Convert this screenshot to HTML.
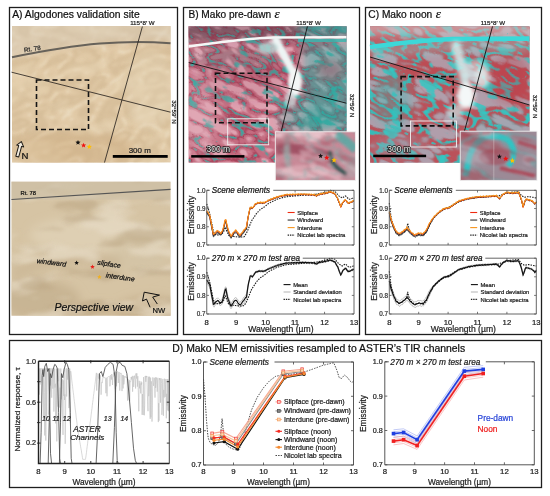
<!DOCTYPE html><html><head><meta charset='utf-8'><style>html,body{margin:0;padding:0;background:#fff;width:550px;height:496px;overflow:hidden}svg{display:block}</style></head><body>
<svg width='550' height='496' viewBox='0 0 550 496' style="font-family:'Liberation Sans',Arial,sans-serif">
<defs>
<filter id='sand' x='0' y='0' width='1' height='1'>
<feTurbulence type='fractalNoise' baseFrequency='0.045 0.09' numOctaves='3' seed='3' result='n'/>
<feColorMatrix in='n' type='matrix' values='0 0 0 0 0.84  0 0 0 0 0.74  0 0 0 0 0.6  1.2 0 0 0 -0.45' result='hi'/>
<feComposite in='hi' in2='SourceGraphic' operator='atop'/>
</filter>
<clipPath id='cp0'><rect x='12' y='26' width='158.6' height='136.4'/></clipPath>
<filter id='mf1' x='0' y='0' width='1' height='1' color-interpolation-filters='sRGB'><feTurbulence type='turbulence' baseFrequency='0.035 0.06' numOctaves='2' seed='9'/><feColorMatrix type='matrix' values='0 0 0 0 0.784 0 0 0 0 0.682 0 0 0 0 0.533 0.98 0 0 0 0.02'/><feComponentTransfer><feFuncA type='table' tableValues='0.00 0.00 0.00 0.00 0.00 0.00 0.00 0.00 0.00 0.08 0.29 0.50 0.71 0.93 1.00 1.00 1.00 0.93 0.81 0.68 0.55 0.42 0.30 0.17 0.04 0.00 0.00 0.00 0.00 0.00 0.00 0.00 0.00 0.00 0.00 0.00 0.00 0.00 0.00 0.00 0.00'/></feComponentTransfer><feGaussianBlur stdDeviation='0.9'/></filter>
<filter id='mf2' x='0' y='0' width='1' height='1' color-interpolation-filters='sRGB'><feTurbulence type='turbulence' baseFrequency='0.035 0.06' numOctaves='2' seed='9'/><feColorMatrix type='matrix' values='0 0 0 0 0.925 0 0 0 0 0.871 0 0 0 0 0.769 0.98 0 0 0 0.02'/><feComponentTransfer><feFuncA type='table' tableValues='1.00 1.00 1.00 0.73 0.31 0.00 0.00 0.00 0.00 0.00 0.00 0.00 0.00 0.00 0.00 0.00 0.00 0.00 0.00 0.00 0.00 0.00 0.00 0.00 0.00 0.00 0.00 0.00 0.00 0.00 0.00 0.00 0.00 0.00 0.00 0.00 0.00 0.00 0.00 0.00 0.00'/></feComponentTransfer><feGaussianBlur stdDeviation='0.9'/></filter>
<clipPath id='cp3'><rect x='12' y='26' width='158.6' height='136.4'/></clipPath>
<filter id='mf4' x='0' y='0' width='1' height='1' color-interpolation-filters='sRGB'><feTurbulence type='fractalNoise' baseFrequency='0.02 0.05' numOctaves='2' seed='13'/><feColorMatrix type='matrix' values='0 0 0 0 0.910 0 0 0 0 0.839 0 0 0 0 0.714 0.98 0 0 0 0.02'/><feComponentTransfer><feFuncA type='table' tableValues='0.00 0.00 0.00 0.00 0.00 0.00 0.00 0.00 0.00 0.00 0.00 0.00 0.00 0.00 0.00 0.00 0.00 0.00 0.00 0.00 0.00 0.03 0.19 0.34 0.50 0.66 0.81 0.97 1.00 1.00 1.00 1.00 1.00 1.00 1.00 1.00 1.00 1.00 1.00 1.00 1.00'/></feComponentTransfer><feGaussianBlur stdDeviation='1.5'/></filter>
<clipPath id='pc5'><rect x='12' y='26' width='158.6' height='136.4'/></clipPath>
<filter id='pb5' x='-10%' y='-10%' width='120%' height='120%'><feGaussianBlur stdDeviation='3'/></filter>
<clipPath id='pc6'><rect x='11.5' y='181.7' width='159' height='134'/></clipPath>
<filter id='pb6' x='-10%' y='-10%' width='120%' height='120%'><feGaussianBlur stdDeviation='5'/></filter>
<clipPath id='cp7'><rect x='11.5' y='181.7' width='159' height='134'/></clipPath>
<filter id='mf8' x='0' y='0' width='1' height='1' color-interpolation-filters='sRGB'><feTurbulence type='fractalNoise' baseFrequency='0.015 0.05' numOctaves='3' seed='21'/><feColorMatrix type='matrix' values='0 0 0 0 0.902 0 0 0 0 0.855 0 0 0 0 0.769 0.98 0 0 0 0.02'/><feComponentTransfer><feFuncA type='table' tableValues='0.00 0.00 0.00 0.00 0.00 0.00 0.00 0.00 0.00 0.00 0.00 0.00 0.00 0.00 0.00 0.00 0.00 0.00 0.00 0.00 0.00 0.04 0.21 0.39 0.57 0.75 0.93 1.00 1.00 1.00 1.00 1.00 1.00 1.00 1.00 1.00 1.00 1.00 1.00 1.00 1.00'/></feComponentTransfer><feGaussianBlur stdDeviation='1.5'/></filter>
<filter id='mf9' x='0' y='0' width='1' height='1' color-interpolation-filters='sRGB'><feTurbulence type='fractalNoise' baseFrequency='0.018 0.06' numOctaves='3' seed='23'/><feColorMatrix type='matrix' values='0 0 0 0 0.722 0 0 0 0 0.635 0 0 0 0 0.502 0.98 0 0 0 0.02'/><feComponentTransfer><feFuncA type='table' tableValues='0.00 0.00 0.00 0.00 0.00 0.00 0.00 0.00 0.00 0.00 0.00 0.00 0.00 0.00 0.00 0.00 0.00 0.00 0.00 0.00 0.00 0.00 0.00 0.00 0.14 0.32 0.50 0.68 0.86 1.00 1.00 1.00 1.00 1.00 1.00 1.00 1.00 1.00 1.00 1.00 1.00'/></feComponentTransfer><feGaussianBlur stdDeviation='1.5'/></filter>
<clipPath id='pc10'><rect x='188.7' y='26.4' width='157.7' height='136.2'/></clipPath>
<filter id='pb10' x='-10%' y='-10%' width='120%' height='120%'><feGaussianBlur stdDeviation='4'/></filter>
<clipPath id='cp11'><rect x='188.7' y='26.4' width='157.7' height='136.2'/></clipPath>
<filter id='mf12' x='0' y='0' width='1' height='1' color-interpolation-filters='sRGB'><feTurbulence type='turbulence' baseFrequency='0.04 0.08' numOctaves='2' seed='5'/><feColorMatrix type='matrix' values='0 0 0 0 0.604 0 0 0 0 0.173 0 0 0 0 0.275 0.98 0 0 0 0.02'/><feComponentTransfer><feFuncA type='table' tableValues='0.00 0.00 0.00 0.08 0.40 0.71 0.97 0.65 0.33 0.01 0.00 0.00 0.00 0.00 0.00 0.00 0.00 0.00 0.00 0.00 0.00 0.00 0.00 0.00 0.00 0.00 0.00 0.00 0.00 0.00 0.00 0.00 0.00 0.00 0.00 0.00 0.00 0.00 0.00 0.00 0.00'/></feComponentTransfer><feGaussianBlur stdDeviation='0.7'/></filter>
<filter id='mf13' x='0' y='0' width='1' height='1' color-interpolation-filters='sRGB'><feTurbulence type='turbulence' baseFrequency='0.04 0.08' numOctaves='2' seed='5'/><feColorMatrix type='matrix' values='0 0 0 0 0.910 0 0 0 0 0.714 0 0 0 0 0.761 0.98 0 0 0 0.02'/><feComponentTransfer><feFuncA type='table' tableValues='0.00 0.00 0.00 0.00 0.00 0.00 0.00 0.00 0.00 0.00 0.00 0.00 0.00 0.09 0.28 0.48 0.68 0.87 1.00 1.00 1.00 1.00 1.00 1.00 1.00 1.00 1.00 1.00 1.00 1.00 1.00 1.00 1.00 1.00 1.00 1.00 1.00 1.00 1.00 1.00 1.00'/></feComponentTransfer><feGaussianBlur stdDeviation='0.7'/></filter>
<filter id='mf14' x='0' y='0' width='1' height='1' color-interpolation-filters='sRGB'><feTurbulence type='turbulence' baseFrequency='0.04 0.08' numOctaves='2' seed='5'/><feColorMatrix type='matrix' values='0 0 0 0 0.212 0 0 0 0 0.659 0 0 0 0 0.627 0.98 0 0 0 0.02'/><feComponentTransfer><feFuncA type='table' tableValues='1.00 1.00 1.00 0.97 0.33 0.00 0.00 0.00 0.00 0.00 0.00 0.00 0.00 0.00 0.00 0.00 0.00 0.00 0.00 0.00 0.00 0.00 0.00 0.00 0.00 0.00 0.00 0.00 0.00 0.00 0.00 0.00 0.00 0.00 0.00 0.00 0.00 0.00 0.00 0.00 0.00'/></feComponentTransfer><feGaussianBlur stdDeviation='0.7'/></filter>
<clipPath id='cp15'><rect x='188.7' y='26.4' width='157.7' height='136.2'/></clipPath>
<filter id='mf16' x='0' y='0' width='1' height='1' color-interpolation-filters='sRGB'><feTurbulence type='fractalNoise' baseFrequency='0.05 0.1' numOctaves='3' seed='36'/><feColorMatrix type='matrix' values='0 0 0 0 0.188 0 0 0 0 0.690 0 0 0 0 0.651 0.98 0 0 0 0.02'/><feComponentTransfer><feFuncA type='table' tableValues='0.00 0.00 0.00 0.00 0.00 0.00 0.00 0.00 0.00 0.00 0.00 0.00 0.00 0.00 0.00 0.00 0.00 0.00 0.00 0.00 0.00 0.00 0.00 0.00 0.00 0.00 0.00 0.21 0.57 0.93 1.00 1.00 1.00 1.00 1.00 1.00 1.00 1.00 1.00 1.00 1.00'/></feComponentTransfer><feGaussianBlur stdDeviation='0.6'/></filter>
<clipPath id='pc17'><rect x='188.7' y='26.4' width='157.7' height='136.2'/></clipPath>
<filter id='pb17' x='-10%' y='-10%' width='120%' height='120%'><feGaussianBlur stdDeviation='5'/></filter>
<clipPath id='pc18'><rect x='188.7' y='26.4' width='157.7' height='136.2'/></clipPath>
<filter id='pb18' x='-10%' y='-10%' width='120%' height='120%'><feGaussianBlur stdDeviation='1.8'/></filter>
<clipPath id='pc19'><rect x='275.3' y='131.8' width='80.1' height='48.6'/></clipPath>
<filter id='pb19' x='-10%' y='-10%' width='120%' height='120%'><feGaussianBlur stdDeviation='1.8'/></filter>
<clipPath id='cp20'><rect x='275.3' y='131.8' width='80.1' height='48.6'/></clipPath>
<filter id='mf21' x='0' y='0' width='1' height='1' color-interpolation-filters='sRGB'><feTurbulence type='fractalNoise' baseFrequency='0.03 0.08' numOctaves='3' seed='51'/><feColorMatrix type='matrix' values='0 0 0 0 0.925 0 0 0 0 0.816 0 0 0 0 0.839 0.98 0 0 0 0.02'/><feComponentTransfer><feFuncA type='table' tableValues='0.00 0.00 0.00 0.00 0.00 0.00 0.00 0.00 0.00 0.00 0.00 0.00 0.00 0.00 0.00 0.00 0.00 0.00 0.00 0.00 0.00 0.00 0.00 0.12 0.33 0.54 0.75 0.96 1.00 1.00 1.00 1.00 1.00 1.00 1.00 1.00 1.00 1.00 1.00 1.00 1.00'/></feComponentTransfer><feGaussianBlur stdDeviation='0.9'/></filter>
<filter id='mf22' x='0' y='0' width='1' height='1' color-interpolation-filters='sRGB'><feTurbulence type='fractalNoise' baseFrequency='0.03 0.08' numOctaves='3' seed='53'/><feColorMatrix type='matrix' values='0 0 0 0 0.604 0 0 0 0 0.275 0 0 0 0 0.345 0.98 0 0 0 0.02'/><feComponentTransfer><feFuncA type='table' tableValues='0.00 0.00 0.00 0.00 0.00 0.00 0.00 0.00 0.00 0.00 0.00 0.00 0.00 0.00 0.00 0.00 0.00 0.00 0.00 0.00 0.00 0.00 0.00 0.00 0.17 0.38 0.58 0.79 1.00 1.00 1.00 1.00 1.00 1.00 1.00 1.00 1.00 1.00 1.00 1.00 1.00'/></feComponentTransfer><feGaussianBlur stdDeviation='0.9'/></filter>
<filter id='mf23' x='0' y='0' width='1' height='1' color-interpolation-filters='sRGB'><feTurbulence type='fractalNoise' baseFrequency='0.03 0.06' numOctaves='3' seed='55'/><feColorMatrix type='matrix' values='0 0 0 0 0.471 0 0 0 0 0.667 0 0 0 0 0.651 0.98 0 0 0 0.02'/><feComponentTransfer><feFuncA type='table' tableValues='0.00 0.00 0.00 0.00 0.00 0.00 0.00 0.00 0.00 0.00 0.00 0.00 0.00 0.00 0.00 0.00 0.00 0.00 0.00 0.17 1.00 0.17 0.00 0.00 0.00 0.00 0.00 0.00 0.00 0.00 0.00 0.00 0.00 0.00 0.00 0.00 0.00 0.00 0.00 0.00 0.00'/></feComponentTransfer><feGaussianBlur stdDeviation='0.9'/></filter>
<clipPath id='pc24'><rect x='370' y='26.4' width='159.5' height='136.3'/></clipPath>
<filter id='pb24' x='-10%' y='-10%' width='120%' height='120%'><feGaussianBlur stdDeviation='4'/></filter>
<clipPath id='cp25'><rect x='370' y='26.4' width='159.5' height='136.3'/></clipPath>
<filter id='mf26' x='0' y='0' width='1' height='1' color-interpolation-filters='sRGB'><feTurbulence type='turbulence' baseFrequency='0.032 0.065' numOctaves='2' seed='7'/><feColorMatrix type='matrix' values='0 0 0 0 0.761 0 0 0 0 0.267 0 0 0 0 0.298 0.98 0 0 0 0.02'/><feComponentTransfer><feFuncA type='table' tableValues='0.00 0.00 0.00 0.00 0.03 0.45 0.88 1.00 1.00 1.00 1.00 0.83 0.62 0.41 0.19 0.00 0.00 0.00 0.00 0.00 0.00 0.00 0.00 0.00 0.00 0.00 0.00 0.00 0.00 0.00 0.00 0.00 0.00 0.00 0.00 0.00 0.00 0.00 0.00 0.00 0.00'/></feComponentTransfer><feGaussianBlur stdDeviation='0.7'/></filter>
<filter id='mf27' x='0' y='0' width='1' height='1' color-interpolation-filters='sRGB'><feTurbulence type='turbulence' baseFrequency='0.032 0.065' numOctaves='2' seed='7'/><feColorMatrix type='matrix' values='0 0 0 0 0.706 0 0 0 0 0.682 0 0 0 0 0.737 0.98 0 0 0 0.02'/><feComponentTransfer><feFuncA type='table' tableValues='0.00 0.00 0.00 0.00 0.00 0.00 0.00 0.00 0.00 0.00 0.00 0.00 0.00 0.09 0.31 0.52 0.73 0.94 1.00 1.00 1.00 1.00 1.00 1.00 1.00 1.00 1.00 1.00 1.00 1.00 1.00 1.00 1.00 1.00 1.00 1.00 1.00 1.00 1.00 1.00 1.00'/></feComponentTransfer><feGaussianBlur stdDeviation='0.7'/></filter>
<filter id='mf28' x='0' y='0' width='1' height='1' color-interpolation-filters='sRGB'><feTurbulence type='turbulence' baseFrequency='0.032 0.065' numOctaves='2' seed='7'/><feColorMatrix type='matrix' values='0 0 0 0 0.188 0 0 0 0 0.753 0 0 0 0 0.737 0.98 0 0 0 0.02'/><feComponentTransfer><feFuncA type='table' tableValues='1.00 1.00 1.00 1.00 0.77 0.26 0.00 0.00 0.00 0.00 0.00 0.00 0.00 0.00 0.00 0.00 0.00 0.00 0.00 0.00 0.00 0.00 0.00 0.00 0.00 0.00 0.00 0.00 0.00 0.00 0.00 0.00 0.00 0.00 0.00 0.00 0.00 0.00 0.00 0.00 0.00'/></feComponentTransfer><feGaussianBlur stdDeviation='0.7'/></filter>
<clipPath id='cp29'><rect x='370' y='26.4' width='159.5' height='136.3'/></clipPath>
<filter id='mf30' x='0' y='0' width='1' height='1' color-interpolation-filters='sRGB'><feTurbulence type='fractalNoise' baseFrequency='0.05 0.1' numOctaves='3' seed='46'/><feColorMatrix type='matrix' values='0 0 0 0 0.204 0 0 0 0 0.784 0 0 0 0 0.769 0.98 0 0 0 0.02'/><feComponentTransfer><feFuncA type='table' tableValues='0.00 0.00 0.00 0.00 0.00 0.00 0.00 0.00 0.00 0.00 0.00 0.00 0.00 0.00 0.00 0.00 0.00 0.00 0.00 0.00 0.00 0.00 0.00 0.00 0.00 0.06 0.38 0.69 1.00 1.00 1.00 1.00 1.00 1.00 1.00 1.00 1.00 1.00 1.00 1.00 1.00'/></feComponentTransfer><feGaussianBlur stdDeviation='0.6'/></filter>
<clipPath id='pc31'><rect x='370' y='26.4' width='159.5' height='136.3'/></clipPath>
<filter id='pb31' x='-10%' y='-10%' width='120%' height='120%'><feGaussianBlur stdDeviation='5'/></filter>
<clipPath id='pc32'><rect x='370' y='26.4' width='159.5' height='136.3'/></clipPath>
<filter id='pb32' x='-10%' y='-10%' width='120%' height='120%'><feGaussianBlur stdDeviation='2'/></filter>
<clipPath id='pc33'><rect x='460.2' y='131.2' width='76.8' height='49.2'/></clipPath>
<filter id='pb33' x='-10%' y='-10%' width='120%' height='120%'><feGaussianBlur stdDeviation='1.2'/></filter>
<clipPath id='cp34'><rect x='460.2' y='131.2' width='76.8' height='49.2'/></clipPath>
<filter id='mf35' x='0' y='0' width='1' height='1' color-interpolation-filters='sRGB'><feTurbulence type='fractalNoise' baseFrequency='0.02 0.07' numOctaves='3' seed='61'/><feColorMatrix type='matrix' values='0 0 0 0 0.753 0 0 0 0 0.722 0 0 0 0 0.761 0.98 0 0 0 0.02'/><feComponentTransfer><feFuncA type='table' tableValues='0.00 0.00 0.00 0.00 0.00 0.00 0.00 0.00 0.00 0.00 0.00 0.00 0.00 0.00 0.00 0.00 0.00 0.00 0.00 0.00 0.00 0.00 0.00 0.04 0.23 0.42 0.62 0.81 1.00 1.00 1.00 1.00 1.00 1.00 1.00 1.00 1.00 1.00 1.00 1.00 1.00'/></feComponentTransfer><feGaussianBlur stdDeviation='1'/></filter>
<filter id='mf36' x='0' y='0' width='1' height='1' color-interpolation-filters='sRGB'><feTurbulence type='fractalNoise' baseFrequency='0.02 0.07' numOctaves='3' seed='63'/><feColorMatrix type='matrix' values='0 0 0 0 0.659 0 0 0 0 0.235 0 0 0 0 0.282 0.98 0 0 0 0.02'/><feComponentTransfer><feFuncA type='table' tableValues='0.00 0.00 0.00 0.00 0.00 0.00 0.00 0.00 0.00 0.00 0.00 0.00 0.00 0.00 0.00 0.00 0.00 0.00 0.00 0.00 0.00 0.00 0.00 0.00 0.00 0.21 0.42 0.63 0.83 1.00 1.00 1.00 1.00 1.00 1.00 1.00 1.00 1.00 1.00 1.00 1.00'/></feComponentTransfer><feGaussianBlur stdDeviation='1'/></filter>
<filter id='mf37' x='0' y='0' width='1' height='1' color-interpolation-filters='sRGB'><feTurbulence type='fractalNoise' baseFrequency='0.015 0.04' numOctaves='3' seed='65'/><feColorMatrix type='matrix' values='0 0 0 0 0.282 0 0 0 0 0.737 0 0 0 0 0.722 0.98 0 0 0 0.02'/><feComponentTransfer><feFuncA type='table' tableValues='0.00 0.00 0.00 0.00 0.00 0.00 0.00 0.00 0.00 0.00 0.00 0.00 0.00 0.00 0.00 0.00 0.00 0.00 0.00 0.17 1.00 0.17 0.00 0.00 0.00 0.00 0.00 0.00 0.00 0.00 0.00 0.00 0.00 0.00 0.00 0.00 0.00 0.00 0.00 0.00 0.00'/></feComponentTransfer><feGaussianBlur stdDeviation='1'/></filter>
</defs>
<rect width='550' height='496' fill='#fff'/>
<rect x='9.5' y='7.5' width='168' height='327' fill='none' stroke='#1e1e1e' stroke-width='1.3'/>
<rect x='183.5' y='7.5' width='176' height='327' fill='none' stroke='#1e1e1e' stroke-width='1.3'/>
<rect x='365.5' y='7.5' width='176' height='327' fill='none' stroke='#1e1e1e' stroke-width='1.3'/>
<rect x='9.5' y='340.5' width='532' height='147' fill='none' stroke='#1e1e1e' stroke-width='1.3'/>
<text x='12.2' y='17.7' font-size='10.38' fill='#111' text-anchor='start' stroke='#111' stroke-width='0.22' >A) Algodones validation site</text>
<text x='188.4' y='17.7' font-size='10.15' fill='#111' text-anchor='start' stroke='#111' stroke-width='0.22' >B) Mako pre-dawn <tspan font-family='Liberation Serif' font-style='italic' font-size='13' dx='0.5'>ε</tspan></text>
<text x='368.3' y='17.7' font-size='10.2' fill='#111' text-anchor='start' stroke='#111' stroke-width='0.22' >C) Mako noon <tspan font-family='Liberation Serif' font-style='italic' font-size='13' dx='0.5'>ε</tspan></text>
<text x='172.3' y='352.4' font-size='10.42' fill='#111' text-anchor='start' stroke='#111' stroke-width='0.22' >D) Mako NEM emissivities resampled to ASTER’s TIR channels</text>
<rect x='12' y='26' width='158.6' height='136.4' fill='#e2cba8'/>
<g clip-path='url(#cp0)'>
<g transform='rotate(-20 91.3 94.2)'><rect x='-15.3' y='-12.4' width='213.2' height='213.2' filter='url(#mf1)' opacity='0.42'/></g>
<g transform='rotate(-20 91.3 94.2)'><rect x='-15.3' y='-12.4' width='213.2' height='213.2' filter='url(#mf2)' opacity='0.8'/></g>
</g>
<g clip-path='url(#cp3)'>
<g transform='rotate(-20 91.3 94.2)'><rect x='-15.3' y='-12.4' width='213.2' height='213.2' filter='url(#mf4)' opacity='0.5'/></g>
</g>
<g clip-path='url(#pc5)'><g filter='url(#pb5)'>
<path d='M0,20 L180,20 L180,42 C150,41.5 120,41.8 100,43.5 C70,46 35,52.5 0,59 Z' fill='#d6cdbb' opacity='0.45'/>
<ellipse cx='70' cy='150' rx='70' ry='18' fill='#caa87c' opacity='0.35'/>
<ellipse cx='150' cy='90' rx='25' ry='40' fill='#e6d6ba' opacity='0.35'/>
</g></g>
<path d='M12,57.2 C35,52.5 70,46 100,43.5 S150,41.6 170.5,43.3' fill='none' stroke='#67625a' stroke-width='1.9'/>
<text x='24.3' y='52.2' font-size='6.3' fill='#2a2a2a' text-anchor='start' stroke='#2a2a2a' stroke-width='0.22' transform='rotate(-8 24.3 52.2)'>Rt. 78</text>
<path d='M142.4,26.5 L104.5,162.5' stroke='#2a2520' stroke-width='0.85'/>
<path d='M11.5,72.2 L170.5,112.2' stroke='#2a2520' stroke-width='0.85'/>
<rect x='36.5' y='80' width='52' height='49.5' fill='none' stroke='#151515' stroke-width='1.6' stroke-dasharray='5 3'/>
<text x='142.4' y='24.6' font-size='6.2' fill='#222' text-anchor='middle' stroke='#222' stroke-width='0.22' >115°8′ W</text>
<text x='172.2' y='112' font-size='6.2' fill='#222' text-anchor='middle' stroke='#222' stroke-width='0.22' transform='rotate(90 172.2 112)'>32°59′ N</text>
<polygon points='78.00,139.90 78.71,141.62 80.57,141.77 79.16,142.98 79.59,144.78 78.00,143.81 76.41,144.78 76.84,142.98 75.43,141.77 77.29,141.62' fill='#111'/>
<polygon points='83.60,142.70 84.31,144.42 86.17,144.57 84.76,145.78 85.19,147.58 83.60,146.62 82.01,147.58 82.44,145.78 81.03,144.57 82.89,144.42' fill='#f01010'/>
<polygon points='89.30,144.10 90.01,145.82 91.87,145.97 90.46,147.18 90.89,148.98 89.30,148.02 87.71,148.98 88.14,147.18 86.73,145.97 88.59,145.82' fill='#ffbf00'/>
<g transform='translate(17.3,156.6) rotate(15)'><path d='M-1.5,0 L-1.5,-11 L-3.6,-11 L0,-15.6 L3.6,-11 L1.5,-11 L1.5,0 Z' fill='#f2ece0' stroke='#1e1a16' stroke-width='1' stroke-linejoin='round'/></g>
<text x='21.6' y='159.3' font-size='9.6' fill='#111' text-anchor='start' stroke='#111' stroke-width='0.22' >N</text>
<rect x='112.8' y='155' width='54.9' height='2.8' fill='#000'/>
<text x='139.8' y='152.6' font-size='8' fill='#222' text-anchor='middle' stroke='#222' stroke-width='0.22' >300 m</text>
<rect x='11.5' y='181.7' width='159' height='134' fill='#d6c4a4'/>
<g clip-path='url(#pc6)'><g filter='url(#pb6)'>
<ellipse cx='90' cy='235' rx='60' ry='18' fill='#e0d2b6' opacity='0.8'/>
<ellipse cx='40' cy='300' rx='40' ry='20' fill='#c0aa88' opacity='0.6'/>
<ellipse cx='150' cy='312' rx='35' ry='16' fill='#c2aa86' opacity='0.7'/>
<ellipse cx='95' cy='312' rx='40' ry='8' fill='#c8b290' opacity='0.5'/>
<ellipse cx='140' cy='250' rx='30' ry='25' fill='#d4c4a6' opacity='0.6'/>
<path d='M12,275 C40,262 80,252 120,262' fill='none' stroke='#bca684' stroke-width='8' opacity='0.5'/>
</g></g>
<g clip-path='url(#cp7)'>
<g transform='rotate(-3 91.0 248.7)'><rect x='-15.0' y='142.7' width='211.9' height='211.9' filter='url(#mf8)' opacity='0.7'/></g>
<g transform='rotate(-3 91.0 248.7)'><rect x='-15.0' y='142.7' width='211.9' height='211.9' filter='url(#mf9)' opacity='0.5'/></g>
</g>
<rect x='11.5' y='181.7' width='159' height='18' fill='#c8bca6' opacity='0.45'/>
<path d='M11.5,199.5 L170.5,189.3' stroke='#555' stroke-width='1.2'/>
<text x='20.5' y='194.5' font-size='5.8' fill='#111' text-anchor='start' stroke='#111' stroke-width='0.22' >Rt. 78</text>
<text x='36.5' y='263' font-size='7' fill='#111' text-anchor='start' stroke='#111' stroke-width='0.22' font-style='italic' transform='rotate(7 36.5 263)'>windward</text>
<polygon points='76.60,260.50 77.23,262.03 78.88,262.16 77.63,263.23 78.01,264.84 76.60,263.98 75.19,264.84 75.57,263.23 74.32,262.16 75.97,262.03' fill='#111'/>
<polygon points='92.50,264.40 93.13,265.93 94.78,266.06 93.53,267.13 93.91,268.74 92.50,267.88 91.09,268.74 91.47,267.13 90.22,266.06 91.87,265.93' fill='#e8201c'/>
<polygon points='99.40,274.60 100.03,276.13 101.68,276.26 100.43,277.33 100.81,278.94 99.40,278.08 97.99,278.94 98.37,277.33 97.12,276.26 98.77,276.13' fill='#f0b020'/>
<text x='97' y='264.5' font-size='7' fill='#111' text-anchor='start' stroke='#111' stroke-width='0.22' font-style='italic' transform='rotate(9 97 264.5)'>slipface</text>
<text x='105.4' y='277.5' font-size='7' fill='#111' text-anchor='start' stroke='#111' stroke-width='0.22' font-style='italic' transform='rotate(8 105.4 277.5)'>interdune</text>
<text x='54.4' y='311' font-size='10.5' fill='#111' text-anchor='start' stroke='#111' stroke-width='0.22' font-style='italic'>Perspective view</text>
<path d='M150.1,307.3 L146.5,299.1 L142.5,301 L144.2,292.2 L159.5,295.1 L152.7,297.1 L157.3,304' fill='none' stroke='#111' stroke-width='1' stroke-linejoin='miter'/>
<text x='152.6' y='312.5' font-size='7.6' fill='#111' text-anchor='start' stroke='#111' stroke-width='0.22' >NW</text>
<rect x='188.7' y='26.4' width='157.7' height='136.2' fill='#c46c80'/>
<g clip-path='url(#pc10)'><g filter='url(#pb10)'>
<rect x='180' y='20' width='180' height='21' fill='#8a6470'/>
<rect x='300' y='20' width='50' height='16' fill='#3aa8a0' opacity='0.6'/>
<ellipse cx='235' cy='58' rx='48' ry='11' fill='#a08890' opacity='0.7'/>
<rect x='302' y='46' width='50' height='88' fill='#6a8884' opacity='0.45'/>
<ellipse cx='200' cy='110' rx='13' ry='50' fill='#d89aaa' opacity='0.7'/>
<ellipse cx='305' cy='118' rx='28' ry='14' fill='#5aa8a2' opacity='0.55'/>
</g></g>
<g clip-path='url(#cp11)'>
<g transform='rotate(25 267.54999999999995 94.5)'><rect x='161.4' y='-11.7' width='212.4' height='212.4' filter='url(#mf12)' opacity='0.7'/></g>
<g transform='rotate(25 267.54999999999995 94.5)'><rect x='161.4' y='-11.7' width='212.4' height='212.4' filter='url(#mf13)' opacity='0.75'/></g>
<g transform='rotate(25 267.54999999999995 94.5)'><rect x='161.4' y='-11.7' width='212.4' height='212.4' filter='url(#mf14)' opacity='0.9'/></g>
</g>
<g clip-path='url(#cp15)'>
<g transform='rotate(25 267.54999999999995 94.5)'><rect x='161.4' y='-11.7' width='212.4' height='212.4' filter='url(#mf16)' opacity='0.8'/></g>
</g>
<g clip-path='url(#pc17)'><g filter='url(#pb17)'>
<rect x='180' y='20' width='180' height='17' fill='#6a3a4a' opacity='0.3'/>
<rect x='304' y='44' width='50' height='86' fill='#26b0a6' opacity='0.45'/>
<rect x='300' y='20' width='50' height='17' fill='#30b0a8' opacity='0.35'/>
<ellipse cx='330' cy='70' rx='14' ry='10' fill='#a02840' opacity='0.35'/>
<ellipse cx='240' cy='75' rx='45' ry='28' fill='#8e2c46' opacity='0.12'/>
<ellipse cx='310' cy='120' rx='30' ry='12' fill='#2a9c94' opacity='0.3'/>
<ellipse cx='205' cy='120' rx='20' ry='40' fill='#d89aa8' opacity='0.25'/>
</g></g>
<path d='M188.7,46.4 C220,42 250,38 275,37.5 L346.4,37.3' fill='none' stroke='#f6f6f6' stroke-width='2.6'/>
<path d='M298,40.6 L346.4,40.4' fill='none' stroke='#38b8b0' stroke-width='3' opacity='0.8'/>
<g clip-path='url(#pc18)'><g filter='url(#pb18)'>
<path d='M276,40 C282,52 289,64 295,76' fill='none' stroke='#eef4f4' stroke-width='8' stroke-linecap='round'/>
<ellipse cx='295' cy='82' rx='7' ry='14' fill='#f4f6f6'/>
<ellipse cx='268' cy='48' rx='10' ry='6' fill='#b8d8d6' opacity='0.8'/>
<ellipse cx='290' cy='100' rx='6' ry='8' fill='#c8e0e0' opacity='0.7'/>
</g></g>
<path d='M307.4,26.4 L280.6,133.8' stroke='#111' stroke-width='0.9'/>
<path d='M188.7,62.5 L346.4,103.2' stroke='#111' stroke-width='0.9'/>
<rect x='215.5' y='73.3' width='51.5' height='49.4' fill='none' stroke='#111' stroke-width='1.6' stroke-dasharray='5 3'/>
<rect x='227.7' y='118.8' width='41' height='26' fill='none' stroke='#f2f2f2' stroke-width='0.9'/>
<rect x='275.3' y='131.8' width='80.1' height='48.6' fill='#c98a98'/>
<g clip-path='url(#pc19)'><g filter='url(#pb19)'>
<ellipse cx='305' cy='136' rx='34' ry='6' fill='#e6c0c8'/>
<path d='M276,150 C292,147 312,150 332,158' fill='none' stroke='#a25468' stroke-width='10'/>
<path d='M288,136 C285,150 288,165 291,182' fill='none' stroke='#98b0ae' stroke-width='6' opacity='0.7'/>
<path d='M336,134 C345,140 352,146 356,150' fill='none' stroke='#4eaca6' stroke-width='9' opacity='0.8'/>
<path d='M330,151 C329,161 335,168 347,174' fill='none' stroke='#2e5552' stroke-width='4'/>
<path d='M336,150 C338,158 344,164 356,168' fill='none' stroke='#7ab0aa' stroke-width='3' opacity='0.7'/>
<ellipse cx='305' cy='172' rx='24' ry='7' fill='#dcaab4' opacity='0.8'/>
<ellipse cx='352' cy='166' rx='7' ry='12' fill='#b4a4aa' opacity='0.7'/>
</g></g>
<g clip-path='url(#cp20)'>
<g transform='rotate(20 315.35 156.10000000000002)'><rect x='266.5' y='107.3' width='97.7' height='97.7' filter='url(#mf21)' opacity='0.45'/></g>
<g transform='rotate(20 315.35 156.10000000000002)'><rect x='266.5' y='107.3' width='97.7' height='97.7' filter='url(#mf22)' opacity='0.4'/></g>
<g transform='rotate(20 315.35 156.10000000000002)'><rect x='266.5' y='107.3' width='97.7' height='97.7' filter='url(#mf23)' opacity='0.55'/></g>
</g>
<rect x='275.3' y='131.8' width='80.1' height='48.6' fill='none' stroke='#f0f0f0' stroke-width='0.9'/>
<rect x='191.2' y='155.1' width='53.2' height='2.5' fill='#000'/>
<text x='218.4' y='152.4' font-size='8.5' fill='#f2f2f2' stroke='#1a1a1a' stroke-width='1.6' paint-order='stroke' text-anchor='middle'>300 m</text>
<text x='308.6' y='24.8' font-size='6.2' fill='#222' text-anchor='middle' stroke='#222' stroke-width='0.22' >115°8′ W</text>
<text x='349.8' y='105.5' font-size='6.2' fill='#222' text-anchor='middle' stroke='#222' stroke-width='0.22' transform='rotate(90 349.8 105.5)'>32°59′ N</text>
<polygon points='320.60,153.40 321.29,155.05 323.07,155.20 321.71,156.36 322.13,158.10 320.60,157.17 319.07,158.10 319.49,156.36 318.13,155.20 319.91,155.05' fill='#111'/>
<polygon points='326.70,155.00 327.44,156.78 329.36,156.93 327.90,158.19 328.35,160.07 326.70,159.06 325.05,160.07 325.50,158.19 324.04,156.93 325.96,156.78' fill='#f01010'/>
<polygon points='334.10,157.30 334.87,159.14 336.86,159.30 335.34,160.60 335.80,162.55 334.10,161.50 332.40,162.55 332.86,160.60 331.34,159.30 333.33,159.14' fill='#ffbf00'/>
<rect x='370' y='26.4' width='159.5' height='136.3' fill='#a87882'/>
<g clip-path='url(#pc24)'><g filter='url(#pb24)'>
<rect x='360' y='20' width='180' height='19' fill='#a8787e'/>
<path d='M370,53 C400,49 430,46 452,45 L530,45' fill='none' stroke='#88c8c8' stroke-width='10' opacity='0.7'/>
<ellipse cx='392' cy='100' rx='20' ry='30' fill='#50b4b0' opacity='0.5'/>
<ellipse cx='510' cy='80' rx='22' ry='28' fill='#b84a50' opacity='0.55'/>
<ellipse cx='430' cy='68' rx='28' ry='12' fill='#b84a50' opacity='0.45'/>
<ellipse cx='400' cy='150' rx='30' ry='12' fill='#9a8a98' opacity='0.6'/>
<ellipse cx='500' cy='125' rx='28' ry='12' fill='#4ab4b0' opacity='0.45'/>
</g></g>
<g clip-path='url(#cp25)'>
<g transform='rotate(22 449.75 94.55000000000001)'><rect x='342.8' y='-12.4' width='213.8' height='213.8' filter='url(#mf26)' opacity='0.75'/></g>
<g transform='rotate(22 449.75 94.55000000000001)'><rect x='342.8' y='-12.4' width='213.8' height='213.8' filter='url(#mf27)' opacity='0.7'/></g>
<g transform='rotate(22 449.75 94.55000000000001)'><rect x='342.8' y='-12.4' width='213.8' height='213.8' filter='url(#mf28)' opacity='0.95'/></g>
</g>
<g clip-path='url(#cp29)'>
<g transform='rotate(22 449.75 94.55000000000001)'><rect x='342.8' y='-12.4' width='213.8' height='213.8' filter='url(#mf30)' opacity='0.85'/></g>
</g>
<g clip-path='url(#pc31)'><g filter='url(#pb31)'>
<rect x='360' y='20' width='180' height='16' fill='#d8c4c8' opacity='0.6'/>
<path d='M370,53 C400,50 430,47 452,46 L530,46' fill='none' stroke='#90c4c4' stroke-width='9' opacity='0.5'/>
<ellipse cx='392' cy='100' rx='18' ry='28' fill='#38b4b0' opacity='0.3'/>
<ellipse cx='510' cy='78' rx='20' ry='26' fill='#b83c44' opacity='0.3'/>
<ellipse cx='400' cy='148' rx='28' ry='12' fill='#a09aa8' opacity='0.4'/>
</g></g>
<path d='M370,47 C400,43 430,40 452,39 L529.5,38.6' fill='none' stroke='#3cd8d8' stroke-width='4.6'/>
<g clip-path='url(#pc32)'><g filter='url(#pb32)'>
<path d='M456,46 C460,60 464,75 467,88' fill='none' stroke='#d0ecec' stroke-width='10' stroke-linecap='round' opacity='0.85'/>
<ellipse cx='476' cy='70' rx='12' ry='10' fill='#d8eaea' opacity='0.6'/>
<ellipse cx='466' cy='96' rx='9' ry='13' fill='#f4f8f8'/>
<ellipse cx='482' cy='78' rx='8' ry='10' fill='#e0eeee' opacity='0.8'/>
<ellipse cx='455' cy='112' rx='8' ry='7' fill='#c8e4e4' opacity='0.7'/>
</g></g>
<path d='M492.5,26.4 L463.7,134' stroke='#111' stroke-width='0.9'/>
<path d='M370,57 L529.5,105' stroke='#111' stroke-width='0.9'/>
<rect x='401.1' y='76.6' width='52.1' height='49.3' fill='none' stroke='#111' stroke-width='1.6' stroke-dasharray='5 3'/>
<rect x='410.5' y='121' width='46' height='26' fill='none' stroke='#f2f2f2' stroke-width='0.9'/>
<rect x='460.2' y='131.2' width='76.8' height='49.2' fill='#9c8a96'/>
<g clip-path='url(#pc33)'><g filter='url(#pb33)'>
<path d='M466,176 C468,160 470,146 482,139 C495,134 508,136 512,146 C515,152 513,160 508,166' fill='none' stroke='#30c4c4' stroke-width='6'/>
<ellipse cx='495' cy='157' rx='16' ry='8' fill='#a25868' opacity='0.8'/>
<path d='M500,168 L535,176' stroke='#b04050' stroke-width='4' opacity='0.8'/>
<path d='M518,142 L537,148' stroke='#b04050' stroke-width='4' opacity='0.7'/>
<ellipse cx='530' cy='160' rx='8' ry='6' fill='#b0a0ac' opacity='0.7'/>
<path d='M462,135 L490,133' stroke='#b04858' stroke-width='4' opacity='0.6'/>
</g></g>
<g clip-path='url(#cp34)'>
<g transform='rotate(20 498.59999999999997 155.79999999999998)'><rect x='451.0' y='108.2' width='95.2' height='95.2' filter='url(#mf35)' opacity='0.45'/></g>
<g transform='rotate(20 498.59999999999997 155.79999999999998)'><rect x='451.0' y='108.2' width='95.2' height='95.2' filter='url(#mf36)' opacity='0.45'/></g>
<g transform='rotate(20 498.59999999999997 155.79999999999998)'><rect x='451.0' y='108.2' width='95.2' height='95.2' filter='url(#mf37)' opacity='0.6'/></g>
</g>
<path d='M493.8,131.2 V180.4' stroke='#e8e8e8' stroke-width='0.6' opacity='0.6'/>
<rect x='460.2' y='131.2' width='76.8' height='49.2' fill='none' stroke='#f0f0f0' stroke-width='0.9'/>
<rect x='373.2' y='154.7' width='52.9' height='2.5' fill='#000'/>
<text x='399' y='151.9' font-size='8.5' fill='#f2f2f2' stroke='#1a1a1a' stroke-width='1.6' paint-order='stroke' text-anchor='middle'>300 m</text>
<text x='492.9' y='24.5' font-size='6.2' fill='#222' text-anchor='middle' stroke='#222' stroke-width='0.22' >115°8′ W</text>
<text x='532.5' y='106.6' font-size='6.2' fill='#222' text-anchor='middle' stroke='#222' stroke-width='0.22' transform='rotate(90 532.5 106.6)'>32°59′ N</text>
<polygon points='499.40,154.00 500.09,155.65 501.87,155.80 500.51,156.96 500.93,158.70 499.40,157.77 497.87,158.70 498.29,156.96 496.93,155.80 498.71,155.65' fill='#111'/>
<polygon points='505.70,156.00 506.44,157.78 508.36,157.93 506.90,159.19 507.35,161.07 505.70,160.06 504.05,161.07 504.50,159.19 503.04,157.93 504.96,157.78' fill='#f01010'/>
<polygon points='512.40,157.80 513.17,159.64 515.16,159.80 513.64,161.10 514.10,163.05 512.40,162.00 510.70,163.05 511.16,161.10 509.64,159.80 511.63,159.64' fill='#ffbf00'/>
<path d='M206.75,203.97 L207.49,206.25 L208.22,208.53 L208.96,211.15 L209.70,214.00 L210.43,217.26 L211.17,220.52 L211.90,223.88 L212.64,227.68 L213.38,231.48 L214.11,232.91 L214.85,233.76 L215.59,234.61 L216.32,234.70 L217.06,234.79 L217.79,234.88 L218.53,234.97 L219.27,234.83 L220.00,234.70 L220.74,234.56 L221.48,234.42 L222.21,233.46 L222.95,232.49 L223.68,231.52 L224.42,229.50 L225.16,227.22 L225.89,228.59 L226.63,230.87 L227.37,232.52 L228.10,234.02 L228.84,235.52 L229.57,235.70 L230.31,235.88 L231.05,236.07 L231.78,236.25 L232.52,236.34 L233.26,236.43 L233.99,236.52 L234.73,236.61 L235.46,236.70 L236.20,236.80 L236.94,236.87 L237.67,236.94 L238.41,237.01 L239.15,237.08 L239.88,237.15 L240.62,237.11 L241.35,237.04 L242.09,236.98 L242.83,236.91 L243.56,236.85 L244.30,236.55 L245.04,235.32 L245.77,234.09 L246.51,232.86 L247.24,231.51 L247.98,229.68 L248.72,227.86 L249.45,226.04 L250.19,224.21 L250.93,222.39 L251.66,220.71 L252.40,219.61 L253.13,218.51 L253.87,217.41 L254.61,216.31 L255.34,215.22 L256.08,214.12 L256.82,213.14 L257.55,212.34 L258.29,211.54 L259.02,210.74 L259.76,209.95 L260.50,209.35 L261.23,208.90 L261.97,208.44 L262.71,207.99 L263.44,207.53 L264.18,207.07 L264.91,206.47 L265.65,205.86 L266.39,205.25 L267.12,204.64 L267.86,204.04 L268.60,203.43 L269.33,203.06 L270.07,202.70 L270.80,202.33 L271.54,201.97 L272.28,201.60 L273.01,201.24 L273.75,200.88 L274.49,200.51 L275.22,200.15 L275.96,199.78 L276.69,199.42 L277.43,199.05 L278.17,198.85 L278.90,198.66 L279.64,198.46 L280.38,198.26 L281.11,198.06 L281.85,197.87 L282.58,197.67 L283.32,197.47 L284.06,197.27 L284.79,197.08 L285.53,196.88 L286.27,196.68 L287.00,196.62 L287.74,196.56 L288.47,196.50 L289.21,196.43 L289.95,196.37 L290.68,196.31 L291.42,196.25 L292.16,196.19 L292.89,196.13 L293.63,196.06 L294.36,196.00 L295.10,195.94 L295.84,195.88 L296.57,195.82 L297.31,195.75 L298.05,195.69 L298.78,195.63 L299.52,195.57 L300.25,195.51 L300.99,195.45 L301.73,195.38 L302.46,195.32 L303.20,195.26 L303.94,195.20 L304.67,195.15 L305.41,195.09 L306.14,195.03 L306.88,194.98 L307.62,194.92 L308.35,194.87 L309.09,194.81 L309.83,194.76 L310.56,194.70 L311.30,194.64 L312.03,194.59 L312.77,194.53 L313.51,194.48 L314.24,194.42 L314.98,194.37 L315.72,194.31 L316.45,194.16 L317.19,194.01 L317.92,193.86 L318.66,193.70 L319.40,193.55 L320.13,193.40 L320.87,193.25 L321.61,193.10 L322.34,192.94 L323.08,192.79 L323.81,192.64 L324.55,192.49 L325.29,192.34 L326.02,192.18 L326.76,191.93 L327.50,191.60 L328.23,191.28 L328.97,190.95 L329.70,190.63 L330.44,190.30 L331.18,190.45 L331.91,190.60 L332.65,190.76 L333.39,190.91 L334.12,191.06 L334.86,191.21 L335.59,192.09 L336.33,192.96 L337.07,193.84 L337.80,194.72 L338.54,195.59 L339.28,196.13 L340.01,196.59 L340.75,197.05 L341.48,197.50 L342.22,197.96 L342.96,197.46 L343.69,196.96 L344.43,196.47 L345.17,195.97 L345.90,196.23 L346.64,196.99 L347.37,197.75 L348.11,198.51 L348.85,199.26 L349.58,199.22 L350.32,198.98 L351.06,198.74 L351.79,198.49 L352.53,198.25 L353.26,198.01 L354.00,198.32' fill='none' stroke='#2a2a2a' stroke-width='1.15' stroke-dasharray='1.5 1.1'/>
<path d='M206.75,212.43 L207.49,214.07 L208.22,215.20 L208.96,216.46 L209.70,216.75 L210.43,221.35 L211.17,225.04 L211.90,228.86 L212.64,232.06 L213.38,236.80 L214.11,236.41 L214.85,235.39 L215.59,234.05 L216.32,234.25 L217.06,233.10 L217.79,232.80 L218.53,233.29 L219.27,234.69 L220.00,234.50 L220.74,235.29 L221.48,234.55 L222.21,233.94 L222.95,231.14 L223.68,228.41 L224.42,225.43 L225.16,222.58 L225.89,221.34 L226.63,225.49 L227.37,229.15 L228.10,231.68 L228.84,232.92 L229.57,235.50 L230.31,237.29 L231.05,238.35 L231.78,236.87 L232.52,236.46 L233.26,235.06 L233.99,233.74 L234.73,233.07 L235.46,233.03 L236.20,232.63 L236.94,233.46 L237.67,234.78 L238.41,236.01 L239.15,236.33 L239.88,237.10 L240.62,236.94 L241.35,236.03 L242.09,234.57 L242.83,233.70 L243.56,233.24 L244.30,232.04 L245.04,230.74 L245.77,230.04 L246.51,229.52 L247.24,223.52 L247.98,217.96 L248.72,214.21 L249.45,211.36 L250.19,207.56 L250.93,207.48 L251.66,208.14 L252.40,208.63 L253.13,207.36 L253.87,206.67 L254.61,205.56 L255.34,204.27 L256.08,203.44 L256.82,203.94 L257.55,203.54 L258.29,203.16 L259.02,202.51 L259.76,203.34 L260.50,202.92 L261.23,202.85 L261.97,202.69 L262.71,203.53 L263.44,202.85 L264.18,202.94 L264.91,202.53 L265.65,202.79 L266.39,201.52 L267.12,201.43 L267.86,201.09 L268.60,201.13 L269.33,199.91 L270.07,200.19 L270.80,199.92 L271.54,199.82 L272.28,198.71 L273.01,199.20 L273.75,198.78 L274.49,198.49 L275.22,197.59 L275.96,198.19 L276.69,197.56 L277.43,197.18 L278.17,196.66 L278.90,197.35 L279.64,196.61 L280.38,196.36 L281.11,196.11 L281.85,196.63 L282.58,195.73 L283.32,195.62 L284.06,195.57 L284.79,195.83 L285.53,194.88 L286.27,194.95 L287.00,195.16 L287.74,195.27 L288.47,194.56 L289.21,194.97 L289.95,195.16 L290.68,194.98 L291.42,194.48 L292.16,195.01 L292.89,195.07 L293.63,194.69 L294.36,194.49 L295.10,195.03 L295.84,194.91 L296.57,194.45 L297.31,194.56 L298.05,194.98 L298.78,194.70 L299.52,194.27 L300.25,194.67 L300.99,194.85 L301.73,194.48 L302.46,194.19 L303.20,194.77 L303.94,194.67 L304.67,194.37 L305.41,194.33 L306.14,195.02 L306.88,194.64 L307.62,194.49 L308.35,194.61 L309.09,195.23 L309.83,194.60 L310.56,194.69 L311.30,194.89 L312.03,195.35 L312.77,194.58 L313.51,194.96 L314.24,195.14 L314.98,195.75 L315.72,195.32 L316.45,196.18 L317.19,195.72 L317.92,195.30 L318.66,194.15 L319.40,194.85 L320.13,194.48 L320.87,194.28 L321.61,193.66 L322.34,194.44 L323.08,193.80 L323.81,193.62 L324.55,193.23 L325.29,193.95 L326.02,193.07 L326.76,192.99 L327.50,192.75 L328.23,193.24 L328.97,192.15 L329.70,192.26 L330.44,192.13 L331.18,192.85 L331.91,192.25 L332.65,193.09 L333.39,193.45 L334.12,193.90 L334.86,193.43 L335.59,195.42 L336.33,196.64 L337.07,197.85 L337.80,198.59 L338.54,201.35 L339.28,203.07 L340.01,204.84 L340.75,206.56 L341.48,205.76 L342.22,203.75 L342.96,202.18 L343.69,201.52 L344.43,201.39 L345.17,200.10 L345.90,200.32 L346.64,201.55 L347.37,202.82 L348.11,203.16 L348.85,203.00 L349.58,203.14 L350.32,202.87 L351.06,202.04 L351.79,201.96 L352.53,201.98 L353.26,201.31 L354.00,200.92' fill='none' stroke='#333' stroke-width='0.9'/>
<path d='M206.75,211.86 L207.49,213.11 L208.22,214.59 L208.96,214.89 L209.70,216.32 L210.43,220.35 L211.17,224.26 L211.90,227.40 L212.64,231.74 L213.38,235.71 L214.11,235.52 L214.85,234.10 L215.59,233.74 L216.32,233.04 L217.06,232.15 L217.79,231.72 L218.53,232.92 L219.27,233.37 L220.00,233.58 L220.74,234.38 L221.48,234.03 L222.21,232.56 L222.95,230.29 L223.68,227.64 L224.42,224.71 L225.16,221.21 L225.89,220.60 L226.63,224.77 L227.37,228.21 L228.10,230.41 L228.84,232.27 L229.57,234.76 L230.31,236.16 L231.05,237.26 L231.78,236.26 L232.52,235.64 L233.26,233.81 L233.99,232.87 L234.73,232.41 L235.46,232.11 L236.20,231.34 L236.94,232.80 L237.67,234.01 L238.41,235.00 L239.15,235.08 L239.88,236.61 L240.62,235.98 L241.35,235.00 L242.09,233.41 L242.83,233.31 L243.56,232.08 L244.30,231.05 L245.04,229.69 L245.77,229.66 L246.51,228.15 L247.24,223.04 L247.98,217.77 L248.72,214.68 L249.45,210.77 L250.19,207.78 L250.93,207.46 L251.66,208.49 L252.40,207.98 L253.13,207.77 L253.87,206.62 L254.61,205.77 L255.34,203.66 L256.08,204.01 L256.82,203.79 L257.55,203.65 L258.29,202.65 L259.02,203.18 L259.76,203.03 L260.50,202.97 L261.23,202.50 L261.97,203.36 L262.71,203.07 L263.44,202.93 L264.18,202.76 L264.91,203.12 L265.65,202.21 L266.39,201.68 L267.12,201.37 L267.86,201.53 L268.60,200.49 L269.33,200.20 L270.07,200.20 L270.80,200.16 L271.54,199.23 L272.28,199.12 L273.01,199.19 L273.75,198.84 L274.49,198.03 L275.22,198.08 L275.96,198.11 L276.69,197.48 L277.43,196.91 L278.17,197.17 L278.90,197.16 L279.64,196.46 L280.38,196.30 L281.11,196.53 L281.85,196.35 L282.58,195.59 L283.32,195.75 L284.06,195.83 L284.79,195.50 L285.53,194.80 L286.27,195.22 L287.00,195.21 L287.74,194.95 L288.47,194.58 L289.21,195.31 L289.95,194.99 L290.68,194.77 L291.42,194.59 L292.16,195.33 L292.89,194.72 L293.63,194.65 L294.36,194.64 L295.10,195.27 L295.84,194.44 L296.57,194.62 L297.31,194.69 L298.05,195.11 L298.78,194.19 L299.52,194.65 L300.25,194.69 L300.99,194.89 L301.73,194.02 L302.46,194.73 L303.20,194.62 L303.94,194.66 L304.67,194.02 L305.41,194.95 L306.14,194.68 L306.88,194.66 L307.62,194.27 L308.35,195.23 L309.09,194.71 L309.83,194.71 L310.56,194.58 L311.30,195.42 L312.03,194.70 L312.77,194.84 L313.51,194.91 L314.24,195.53 L314.98,195.07 L315.72,195.75 L316.45,196.11 L317.19,195.95 L317.92,194.67 L318.66,194.72 L319.40,194.70 L320.13,194.57 L320.87,193.79 L321.61,194.30 L322.34,194.16 L323.08,193.82 L323.81,193.30 L324.55,193.86 L325.29,193.55 L326.02,193.09 L326.76,192.86 L327.50,193.28 L328.23,192.73 L328.97,192.24 L329.70,192.28 L330.44,192.48 L331.18,192.31 L331.91,192.44 L332.65,193.20 L333.39,193.60 L334.12,193.42 L334.86,193.73 L335.59,195.54 L336.33,196.59 L337.07,197.51 L337.80,198.95 L338.54,201.41 L339.28,202.86 L340.01,204.70 L340.75,206.92 L341.48,205.71 L342.22,203.46 L342.96,202.25 L343.69,201.80 L344.43,201.26 L345.17,199.81 L345.90,200.59 L346.64,201.68 L347.37,202.63 L348.11,202.94 L348.85,203.42 L349.58,203.05 L350.32,202.69 L351.06,201.92 L351.79,202.43 L352.53,201.68 L353.26,201.23 L354.00,200.90' fill='none' stroke='#222' stroke-width='0.9'/>
<path d='M206.75,211.10 L207.49,212.44 L208.22,213.31 L208.96,213.96 L209.70,215.68 L210.43,219.47 L211.17,223.02 L211.90,226.57 L212.64,231.13 L213.38,234.61 L214.11,234.40 L214.85,233.35 L215.59,233.10 L216.32,231.77 L217.06,231.23 L217.79,230.99 L218.53,232.19 L219.27,231.99 L220.00,232.87 L220.74,233.60 L221.48,233.19 L222.21,231.17 L222.95,229.78 L223.68,226.73 L224.42,223.79 L225.16,219.88 L225.89,220.23 L226.63,223.68 L227.37,227.27 L228.10,229.20 L228.84,231.98 L229.57,233.47 L230.31,235.27 L231.05,236.17 L231.78,235.94 L232.52,234.18 L233.26,233.04 L233.99,231.87 L234.73,231.99 L235.46,230.54 L236.20,230.73 L236.94,231.84 L237.67,233.44 L238.41,233.42 L239.15,234.64 L239.88,235.62 L240.62,235.26 L241.35,233.49 L242.09,233.10 L242.83,232.21 L243.56,231.24 L244.30,229.68 L245.04,229.44 L245.77,228.43 L246.51,227.27 L247.24,222.23 L247.98,218.24 L248.72,214.22 L249.45,210.81 L250.19,207.68 L250.93,207.97 L251.66,207.94 L252.40,208.11 L253.13,207.80 L253.87,206.95 L254.61,205.21 L255.34,203.90 L256.08,204.10 L256.82,203.90 L257.55,203.16 L258.29,203.00 L259.02,203.25 L259.76,202.96 L260.50,202.64 L261.23,202.91 L261.97,203.37 L262.71,202.86 L263.44,202.81 L264.18,203.14 L264.91,203.02 L265.65,201.95 L266.39,201.78 L267.12,201.65 L267.86,201.34 L268.60,200.25 L269.33,200.49 L270.07,200.30 L270.80,199.94 L271.54,199.06 L272.28,199.53 L273.01,199.08 L273.75,198.66 L274.49,197.96 L275.22,198.53 L275.96,197.79 L276.69,197.41 L277.43,196.93 L278.17,197.57 L278.90,196.67 L279.64,196.56 L280.38,196.36 L281.11,196.84 L281.85,195.77 L282.58,195.90 L283.32,195.77 L284.06,196.02 L284.79,194.91 L285.53,195.30 L286.27,195.13 L287.00,195.30 L287.74,194.45 L288.47,195.21 L289.21,195.06 L289.95,195.03 L290.68,194.40 L291.42,195.26 L292.16,194.90 L292.89,194.79 L293.63,194.43 L294.36,195.27 L295.10,194.69 L295.84,194.60 L296.57,194.51 L297.31,195.19 L298.05,194.45 L298.78,194.49 L299.52,194.61 L300.25,195.02 L300.99,194.23 L301.73,194.46 L302.46,194.67 L303.20,194.78 L303.94,194.10 L304.67,194.57 L305.41,194.82 L306.14,194.70 L306.88,194.26 L307.62,194.85 L308.35,194.98 L309.09,194.65 L309.83,194.52 L310.56,195.12 L311.30,195.07 L312.03,194.65 L312.77,194.84 L313.51,195.31 L314.24,195.10 L314.98,195.08 L315.72,195.90 L316.45,196.32 L317.19,195.51 L317.92,194.79 L318.66,194.94 L319.40,194.69 L320.13,194.22 L320.87,193.99 L321.61,194.52 L322.34,193.95 L323.08,193.63 L323.81,193.56 L324.55,194.01 L325.29,193.20 L326.02,193.11 L326.76,193.10 L327.50,193.33 L328.23,192.32 L328.97,192.48 L329.70,192.42 L330.44,192.44 L331.18,191.93 L331.91,192.87 L332.65,193.17 L333.39,193.51 L334.12,193.12 L334.86,194.27 L335.59,195.30 L336.33,196.52 L337.07,197.32 L337.80,199.52 L338.54,200.97 L339.28,202.89 L340.01,204.61 L340.75,207.43 L341.48,205.13 L342.22,203.66 L342.96,202.22 L343.69,202.19 L344.43,200.60 L345.17,200.19 L345.90,200.55 L346.64,201.93 L347.37,201.99 L348.11,203.48 L348.85,203.29 L349.58,203.18 L350.32,202.15 L351.06,202.57 L351.79,202.17 L352.53,201.74 L353.26,200.85 L354.00,201.58' fill='none' stroke='#ee2a10' stroke-width='1.0'/>
<path d='M206.75,210.57 L207.49,212.03 L208.22,212.21 L208.96,213.94 L209.70,215.02 L210.43,218.98 L211.17,222.01 L211.90,226.66 L212.64,230.30 L213.38,234.10 L214.11,233.53 L214.85,233.47 L215.59,232.09 L216.32,231.30 L217.06,230.49 L217.79,231.04 L218.53,231.04 L219.27,231.64 L220.00,232.24 L220.74,233.52 L221.48,231.97 L222.21,230.96 L222.95,229.19 L223.68,226.48 L224.42,222.59 L225.16,219.82 L225.89,219.61 L226.63,223.27 L227.37,226.18 L228.10,229.23 L228.84,231.26 L229.57,232.93 L230.31,234.36 L231.05,236.22 L231.78,235.10 L232.52,233.59 L233.26,232.32 L233.99,231.86 L234.73,231.04 L235.46,229.97 L236.20,230.20 L236.94,231.68 L237.67,232.42 L238.41,232.93 L239.15,234.24 L239.88,235.25 L240.62,234.26 L241.35,233.11 L242.09,232.75 L242.83,231.63 L243.56,230.35 L244.30,229.39 L245.04,229.07 L245.77,227.66 L246.51,226.55 L247.24,221.97 L247.98,217.79 L248.72,213.34 L249.45,210.31 L250.19,207.38 L250.93,207.42 L251.66,207.01 L252.40,207.82 L253.13,207.38 L253.87,206.31 L254.61,204.32 L255.34,203.78 L256.08,203.50 L256.82,203.24 L257.55,202.37 L258.29,202.98 L259.02,202.45 L259.76,202.34 L260.50,201.96 L261.23,202.90 L261.97,202.36 L262.71,202.37 L263.44,202.21 L264.18,203.06 L264.91,201.88 L265.65,201.62 L266.39,201.22 L267.12,201.45 L267.86,200.14 L268.60,200.11 L269.33,199.89 L270.07,199.96 L270.80,198.78 L271.54,199.09 L272.28,198.82 L273.01,198.64 L273.75,197.61 L274.49,198.08 L275.22,197.68 L275.96,197.30 L276.69,196.52 L277.43,197.06 L278.17,196.56 L278.90,196.20 L279.64,195.83 L280.38,196.40 L281.11,195.71 L281.85,195.39 L282.58,195.30 L283.32,195.66 L284.06,194.84 L284.79,194.65 L285.53,194.76 L286.27,194.83 L287.00,194.16 L287.74,194.31 L288.47,194.66 L289.21,194.57 L289.95,194.03 L290.68,194.34 L291.42,194.64 L292.16,194.27 L292.89,193.97 L293.63,194.38 L294.36,194.54 L295.10,193.99 L295.84,194.00 L296.57,194.38 L297.31,194.37 L298.05,193.76 L298.78,194.09 L299.52,194.32 L300.25,194.15 L300.99,193.61 L301.73,194.19 L302.46,194.17 L303.20,193.92 L303.94,193.57 L304.67,194.36 L305.41,194.10 L306.14,193.95 L306.88,193.82 L307.62,194.63 L308.35,194.07 L309.09,194.07 L309.83,194.12 L310.56,194.81 L311.30,194.04 L312.03,194.28 L312.77,194.41 L313.51,194.90 L314.24,194.04 L314.98,194.92 L315.72,195.36 L316.45,195.81 L317.19,194.50 L317.92,194.78 L318.66,194.24 L319.40,194.14 L320.13,193.32 L320.87,194.07 L321.61,193.62 L322.34,193.43 L323.08,192.85 L323.81,193.64 L324.55,192.94 L325.29,192.77 L326.02,192.45 L326.76,193.09 L327.50,192.14 L328.23,192.04 L328.97,191.87 L329.70,192.26 L330.44,191.21 L331.18,191.81 L331.91,192.25 L332.65,192.85 L333.39,192.34 L334.12,193.14 L334.86,193.57 L335.59,194.85 L336.33,195.49 L337.07,197.41 L337.80,198.70 L338.54,200.45 L339.28,202.04 L340.01,204.69 L340.75,206.48 L341.48,204.60 L342.22,202.99 L342.96,202.20 L343.69,201.14 L344.43,200.13 L345.17,199.67 L345.90,200.35 L346.64,200.85 L347.37,201.63 L348.11,203.04 L348.85,202.88 L349.58,202.16 L350.32,201.90 L351.06,202.15 L351.79,201.56 L352.53,200.85 L353.26,200.66 L354.00,201.09' fill='none' stroke='#f7941d' stroke-width='1.1'/>
<path d='M206.75,190.3 L206.75,245.0 L354.0,245.0 L354.0,190.3 L273.25,190.3 M206.75,190.3 L209.75,190.3' fill='none' stroke='#555' stroke-width='0.9'/>
<text x='211.75' y='193.3' font-size='8.15' fill='#111' text-anchor='start' stroke='#111' stroke-width='0.22' font-style='italic'>Scene elements</text>
<path d='M206.75,190.30 h2.2 M354.0,190.30 h-2.2' stroke='#555' stroke-width='0.8'/>
<text x='205.55' y='192.5' font-size='6.3' fill='#333' text-anchor='end' stroke='#333' stroke-width='0.22' >1.0</text>
<path d='M206.75,208.53 h2.2 M354.0,208.53 h-2.2' stroke='#555' stroke-width='0.8'/>
<text x='205.55' y='210.73333333333332' font-size='6.3' fill='#333' text-anchor='end' stroke='#333' stroke-width='0.22' >0.9</text>
<path d='M206.75,226.77 h2.2 M354.0,226.77 h-2.2' stroke='#555' stroke-width='0.8'/>
<text x='205.55' y='228.96666666666664' font-size='6.3' fill='#333' text-anchor='end' stroke='#333' stroke-width='0.22' >0.8</text>
<path d='M206.75,245.00 h2.2 M354.0,245.00 h-2.2' stroke='#555' stroke-width='0.8'/>
<text x='205.55' y='247.2' font-size='6.3' fill='#333' text-anchor='end' stroke='#333' stroke-width='0.22' >0.7</text>
<path d='M236.20,245.0 v-2.2' stroke='#555' stroke-width='0.8'/>
<path d='M265.65,245.0 v-2.2' stroke='#555' stroke-width='0.8'/>
<path d='M295.10,245.0 v-2.2 M295.10,190.3 v2.2' stroke='#555' stroke-width='0.8'/>
<path d='M324.55,245.0 v-2.2 M324.55,190.3 v2.2' stroke='#555' stroke-width='0.8'/>
<path d='M287.65,212.50 h7' stroke='#ee2a10' stroke-width='1.1' />
<text x='297.25' y='214.6' font-size='5.85' fill='#222' text-anchor='start' stroke='#222' stroke-width='0.22' >Slipface</text>
<path d='M287.65,220.05 h7' stroke='#333' stroke-width='1.1' />
<text x='297.25' y='222.15' font-size='5.85' fill='#222' text-anchor='start' stroke='#222' stroke-width='0.22' >Windward</text>
<path d='M287.65,227.60 h7' stroke='#f7941d' stroke-width='1.1' />
<text x='297.25' y='229.7' font-size='5.85' fill='#222' text-anchor='start' stroke='#222' stroke-width='0.22' >Interdune</text>
<path d='M287.65,235.15 h7' stroke='#222' stroke-width='1.1' stroke-dasharray='1.4 0.9'/>
<text x='297.25' y='237.25' font-size='5.85' fill='#222' text-anchor='start' stroke='#222' stroke-width='0.22' >Nicolet lab spectra</text>
<path d='M206.75,277.99 L207.49,278.41 L208.22,279.60 L208.96,281.00 L209.70,282.33 L210.43,285.56 L211.17,289.71 L211.90,293.95 L212.64,297.74 L213.38,301.13 L214.11,301.53 L214.85,300.81 L215.59,299.44 L216.32,298.48 L217.06,298.42 L217.79,298.22 L218.53,298.32 L219.27,299.04 L220.00,300.10 L220.74,300.66 L221.48,299.30 L222.21,298.53 L222.95,296.81 L223.68,293.43 L224.42,289.81 L225.16,287.29 L225.89,286.82 L226.63,290.20 L227.37,293.57 L228.10,296.93 L228.84,298.48 L229.57,300.19 L230.31,302.00 L231.05,304.03 L231.78,302.22 L232.52,301.05 L233.26,299.95 L233.99,299.48 L234.73,297.98 L235.46,297.58 L236.20,297.72 L236.94,299.20 L237.67,299.38 L238.41,300.80 L239.15,301.71 L239.88,302.75 L240.62,301.32 L241.35,301.13 L242.09,300.01 L242.83,299.04 L243.56,297.44 L244.30,297.41 L245.04,296.06 L245.77,295.03 L246.51,293.69 L247.24,290.28 L247.98,285.31 L248.72,281.66 L249.45,278.34 L250.19,275.94 L250.93,274.81 L251.66,275.37 L252.40,275.83 L253.13,275.79 L253.87,273.66 L254.61,272.80 L255.34,271.68 L256.08,271.68 L256.82,270.60 L257.55,270.93 L258.29,270.76 L259.02,270.48 L259.76,269.83 L260.50,270.58 L261.23,270.54 L261.97,270.34 L262.71,270.04 L263.44,270.80 L264.18,270.57 L264.91,269.87 L265.65,269.46 L266.39,269.67 L267.12,268.83 L267.86,268.18 L268.60,268.06 L269.33,268.13 L270.07,267.31 L270.80,266.91 L271.54,267.07 L272.28,266.82 L273.01,266.03 L273.75,265.81 L274.49,266.04 L275.22,265.46 L275.96,264.82 L276.69,264.77 L277.43,264.92 L278.17,264.18 L278.90,263.92 L279.64,264.04 L280.38,264.14 L281.11,263.26 L281.85,263.31 L282.58,263.39 L283.32,263.30 L284.06,262.39 L284.79,262.76 L285.53,262.66 L286.27,262.41 L287.00,261.78 L287.74,262.53 L288.47,262.34 L289.21,262.18 L289.95,261.74 L290.68,262.60 L291.42,262.11 L292.16,262.00 L292.89,261.78 L293.63,262.59 L294.36,261.84 L295.10,261.89 L295.84,261.84 L296.57,262.49 L297.31,261.57 L298.05,261.86 L298.78,261.89 L299.52,262.31 L300.25,261.34 L300.99,261.90 L301.73,261.89 L302.46,262.06 L303.20,261.19 L303.94,261.99 L304.67,261.90 L305.41,261.94 L306.14,261.35 L306.88,262.30 L307.62,261.99 L308.35,261.93 L309.09,261.63 L309.83,262.55 L310.56,262.02 L311.30,261.99 L312.03,261.97 L312.77,262.72 L313.51,262.03 L314.24,262.13 L314.98,262.68 L315.72,263.52 L316.45,262.96 L317.19,262.75 L317.92,262.53 L318.66,262.19 L319.40,261.36 L320.13,261.65 L320.87,261.73 L321.61,261.42 L322.34,260.80 L323.08,261.22 L323.81,261.17 L324.55,260.65 L325.29,260.33 L326.02,260.76 L326.76,260.50 L327.50,259.83 L328.23,259.79 L328.97,260.03 L329.70,259.58 L330.44,258.95 L331.18,259.71 L331.91,260.21 L332.65,260.17 L333.39,260.20 L334.12,261.14 L334.86,261.33 L335.59,262.31 L336.33,263.51 L337.07,265.50 L337.80,266.36 L338.54,268.18 L339.28,270.25 L340.01,272.85 L340.75,274.16 L341.48,272.63 L342.22,271.19 L342.96,270.21 L343.69,268.65 L344.43,268.29 L345.17,267.70 L345.90,268.23 L346.64,268.37 L347.37,270.01 L348.11,270.98 L348.85,270.76 L349.58,269.80 L350.32,270.40 L351.06,269.86 L351.79,269.44 L352.53,268.58 L353.26,269.16 L354.00,268.58' fill='none' stroke='#a8a8a8' stroke-width='0.7'/>
<path d='M206.75,282.97 L207.49,283.41 L208.22,285.11 L208.96,286.29 L209.70,287.29 L210.43,290.65 L211.17,295.33 L211.90,299.02 L212.64,302.76 L213.38,306.32 L214.11,307.17 L214.85,305.66 L215.59,304.60 L216.32,303.74 L217.06,304.00 L217.79,302.92 L218.53,303.67 L219.27,304.32 L220.00,305.57 L220.74,305.28 L221.48,304.86 L222.21,303.76 L222.95,302.17 L223.68,298.08 L224.42,295.55 L225.16,292.38 L225.89,292.08 L226.63,294.94 L227.37,299.43 L228.10,301.85 L228.84,303.72 L229.57,305.06 L230.31,307.89 L231.05,308.76 L231.78,307.51 L232.52,306.07 L233.26,305.77 L233.99,304.07 L234.73,303.38 L235.46,302.70 L236.20,303.41 L236.94,303.72 L237.67,304.93 L238.41,305.96 L239.15,307.23 L239.88,307.30 L240.62,307.02 L241.35,306.26 L242.09,305.35 L242.83,303.70 L243.56,303.24 L244.30,302.44 L245.04,301.28 L245.77,299.87 L246.51,299.51 L247.24,293.64 L247.98,287.37 L248.72,282.98 L249.45,280.37 L250.19,277.02 L250.93,276.27 L251.66,276.88 L252.40,277.71 L253.13,276.81 L253.87,275.21 L254.61,274.43 L255.34,273.35 L256.08,272.71 L256.82,272.26 L257.55,272.63 L258.29,272.21 L259.02,271.62 L259.76,271.58 L260.50,272.25 L261.23,271.80 L261.97,271.66 L262.71,271.82 L263.44,272.39 L264.18,271.70 L264.91,271.41 L265.65,271.20 L266.39,271.16 L267.12,269.93 L267.86,269.94 L268.60,269.67 L269.33,269.53 L270.07,268.44 L270.80,268.84 L271.54,268.50 L272.28,268.20 L273.01,267.26 L273.75,267.85 L274.49,267.25 L275.22,266.89 L275.96,266.17 L276.69,266.81 L277.43,265.94 L278.17,265.73 L278.90,265.35 L279.64,266.01 L280.38,265.02 L281.11,264.98 L281.85,264.78 L282.58,265.23 L283.32,264.12 L284.06,264.30 L284.79,264.19 L285.53,264.37 L286.27,263.27 L287.00,263.85 L287.74,263.86 L288.47,263.93 L289.21,263.16 L289.95,263.91 L290.68,263.77 L291.42,263.65 L292.16,263.13 L292.89,263.95 L293.63,263.61 L294.36,263.40 L295.10,263.19 L295.84,263.93 L296.57,263.39 L297.31,263.22 L298.05,263.29 L298.78,263.82 L299.52,263.16 L300.25,263.12 L300.99,263.40 L301.73,263.62 L302.46,262.95 L303.20,263.10 L303.94,263.48 L304.67,263.44 L305.41,262.96 L306.14,263.34 L306.88,263.71 L307.62,263.39 L308.35,263.15 L309.09,263.62 L309.83,263.86 L310.56,263.35 L311.30,263.43 L312.03,263.88 L312.77,263.93 L313.51,263.36 L314.24,263.77 L314.98,264.42 L315.72,264.68 L316.45,264.37 L317.19,264.53 L317.92,264.07 L318.66,263.37 L319.40,262.86 L320.13,263.50 L320.87,263.04 L321.61,262.71 L322.34,262.39 L323.08,263.04 L323.81,262.29 L324.55,262.11 L325.29,261.97 L326.02,262.49 L326.76,261.49 L327.50,261.50 L328.23,261.39 L328.97,261.66 L329.70,260.54 L330.44,260.84 L331.18,261.20 L331.91,261.74 L332.65,261.18 L333.39,262.25 L334.12,262.47 L334.86,262.82 L335.59,263.43 L336.33,265.64 L337.07,266.62 L337.80,267.87 L338.54,269.43 L339.28,272.37 L340.01,273.80 L340.75,275.77 L341.48,274.00 L342.22,273.22 L342.96,271.04 L343.69,270.41 L344.43,269.72 L345.17,269.59 L345.90,269.02 L346.64,270.30 L347.37,271.43 L348.11,272.70 L348.85,271.62 L349.58,271.86 L350.32,271.74 L351.06,271.44 L351.79,270.43 L352.53,270.72 L353.26,270.37 L354.00,270.08' fill='none' stroke='#a8a8a8' stroke-width='0.7'/>
<path d='M206.75,272.15 L207.49,274.48 L208.22,276.80 L208.96,279.47 L209.70,282.38 L210.43,285.70 L211.17,289.02 L211.90,292.46 L212.64,296.33 L213.38,300.21 L214.11,301.67 L214.85,302.53 L215.59,303.40 L216.32,303.49 L217.06,303.58 L217.79,303.68 L218.53,303.77 L219.27,303.63 L220.00,303.49 L220.74,303.35 L221.48,303.21 L222.21,302.22 L222.95,301.24 L223.68,300.25 L224.42,298.19 L225.16,295.86 L225.89,297.26 L226.63,299.59 L227.37,301.27 L228.10,302.80 L228.84,304.33 L229.57,304.51 L230.31,304.70 L231.05,304.89 L231.78,305.07 L232.52,305.17 L233.26,305.26 L233.99,305.35 L234.73,305.44 L235.46,305.54 L236.20,305.63 L236.94,305.70 L237.67,305.77 L238.41,305.84 L239.15,305.92 L239.88,305.99 L240.62,305.95 L241.35,305.88 L242.09,305.82 L242.83,305.75 L243.56,305.68 L244.30,305.38 L245.04,304.12 L245.77,302.87 L246.51,301.61 L247.24,300.24 L247.98,298.38 L248.72,296.52 L249.45,294.66 L250.19,292.80 L250.93,290.94 L251.66,289.22 L252.40,288.10 L253.13,286.98 L253.87,285.86 L254.61,284.74 L255.34,283.62 L256.08,282.49 L256.82,281.50 L257.55,280.68 L258.29,279.87 L259.02,279.06 L259.76,278.24 L260.50,277.64 L261.23,277.17 L261.97,276.71 L262.71,276.24 L263.44,275.78 L264.18,275.31 L264.91,274.69 L265.65,274.07 L266.39,273.45 L267.12,272.83 L267.86,272.21 L268.60,271.59 L269.33,271.22 L270.07,270.85 L270.80,270.48 L271.54,270.10 L272.28,269.73 L273.01,269.36 L273.75,268.99 L274.49,268.62 L275.22,268.24 L275.96,267.87 L276.69,267.50 L277.43,267.13 L278.17,266.93 L278.90,266.72 L279.64,266.52 L280.38,266.32 L281.11,266.12 L281.85,265.92 L282.58,265.72 L283.32,265.52 L284.06,265.31 L284.79,265.11 L285.53,264.91 L286.27,264.71 L287.00,264.65 L287.74,264.58 L288.47,264.52 L289.21,264.46 L289.95,264.39 L290.68,264.33 L291.42,264.27 L292.16,264.21 L292.89,264.14 L293.63,264.08 L294.36,264.02 L295.10,263.95 L295.84,263.89 L296.57,263.83 L297.31,263.76 L298.05,263.70 L298.78,263.64 L299.52,263.58 L300.25,263.51 L300.99,263.45 L301.73,263.39 L302.46,263.32 L303.20,263.26 L303.94,263.20 L304.67,263.14 L305.41,263.09 L306.14,263.03 L306.88,262.97 L307.62,262.92 L308.35,262.86 L309.09,262.80 L309.83,262.75 L310.56,262.69 L311.30,262.63 L312.03,262.58 L312.77,262.52 L313.51,262.46 L314.24,262.41 L314.98,262.35 L315.72,262.29 L316.45,262.14 L317.19,261.98 L317.92,261.83 L318.66,261.67 L319.40,261.52 L320.13,261.36 L320.87,261.21 L321.61,261.05 L322.34,260.90 L323.08,260.74 L323.81,260.59 L324.55,260.43 L325.29,260.28 L326.02,260.12 L326.76,259.86 L327.50,259.53 L328.23,259.20 L328.97,258.86 L329.70,258.53 L330.44,258.20 L331.18,258.36 L331.91,258.51 L332.65,258.67 L333.39,258.82 L334.12,258.98 L334.86,259.13 L335.59,260.02 L336.33,260.92 L337.07,261.81 L337.80,262.71 L338.54,263.60 L339.28,264.15 L340.01,264.62 L340.75,265.08 L341.48,265.55 L342.22,266.01 L342.96,265.50 L343.69,265.00 L344.43,264.49 L345.17,263.98 L345.90,264.25 L346.64,265.02 L347.37,265.80 L348.11,266.57 L348.85,267.35 L349.58,267.30 L350.32,267.05 L351.06,266.81 L351.79,266.56 L352.53,266.31 L353.26,266.06 L354.00,266.38' fill='none' stroke='#1a1a1a' stroke-width='1.1' stroke-dasharray='1.5 1.1'/>
<path d='M206.75,279.85 L207.49,281.26 L208.22,282.42 L208.96,283.74 L209.70,284.26 L210.43,288.60 L211.17,292.49 L211.90,296.43 L212.64,299.86 L213.38,304.30 L214.11,304.17 L214.85,303.11 L215.59,301.83 L216.32,301.68 L217.06,300.87 L217.79,300.46 L218.53,301.00 L219.27,302.13 L220.00,302.38 L220.74,302.95 L221.48,302.23 L222.21,301.41 L222.95,298.99 L223.68,295.87 L224.42,292.91 L225.16,289.88 L225.89,289.00 L226.63,292.83 L227.37,296.71 L228.10,299.23 L228.84,300.80 L229.57,302.97 L230.31,305.06 L231.05,306.09 L231.78,304.77 L232.52,303.93 L233.26,302.84 L233.99,301.42 L234.73,300.81 L235.46,300.43 L236.20,300.42 L236.94,301.13 L237.67,302.48 L238.41,303.51 L239.15,304.24 L239.88,304.80 L240.62,304.62 L241.35,303.61 L242.09,302.46 L242.83,301.29 L243.56,300.83 L244.30,299.62 L245.04,298.53 L245.77,297.50 L246.51,297.03 L247.24,291.48 L247.98,286.37 L248.72,282.44 L249.45,279.66 L250.19,275.90 L250.93,275.77 L251.66,276.25 L252.40,276.92 L253.13,275.73 L253.87,274.86 L254.61,273.65 L255.34,272.52 L256.08,271.72 L256.82,272.00 L257.55,271.66 L258.29,271.41 L259.02,270.74 L259.76,271.33 L260.50,271.10 L261.23,271.09 L261.97,270.87 L262.71,271.51 L263.44,271.12 L264.18,271.15 L264.91,270.66 L265.65,270.78 L266.39,269.83 L267.12,269.53 L267.86,269.17 L268.60,269.12 L269.33,268.23 L270.07,268.19 L270.80,267.98 L271.54,267.84 L272.28,267.01 L273.01,267.10 L273.75,266.86 L274.49,266.54 L275.22,265.83 L275.96,266.01 L276.69,265.68 L277.43,265.23 L278.17,264.83 L278.90,265.13 L279.64,264.78 L280.38,264.39 L281.11,264.20 L281.85,264.42 L282.58,263.95 L283.32,263.59 L284.06,263.60 L284.79,263.65 L285.53,263.12 L286.27,262.86 L287.00,263.14 L287.74,263.15 L288.47,262.79 L289.21,262.82 L289.95,263.14 L290.68,262.93 L291.42,262.68 L292.16,262.81 L292.89,263.09 L293.63,262.69 L294.36,262.62 L295.10,262.80 L295.84,262.97 L296.57,262.48 L297.31,262.62 L298.05,262.77 L298.78,262.81 L299.52,262.30 L300.25,262.65 L300.99,262.68 L301.73,262.62 L302.46,262.19 L303.20,262.69 L303.94,262.57 L304.67,262.52 L305.41,262.28 L306.14,262.91 L306.88,262.64 L307.62,262.62 L308.35,262.52 L309.09,263.12 L309.83,262.67 L310.56,262.76 L311.30,262.78 L312.03,263.28 L312.77,262.71 L313.51,262.96 L314.24,263.04 L314.98,263.73 L315.72,263.50 L316.45,264.11 L317.19,263.66 L317.92,263.32 L318.66,262.29 L319.40,262.68 L320.13,262.45 L320.87,262.31 L321.61,261.75 L322.34,262.21 L323.08,261.84 L323.81,261.63 L324.55,261.26 L325.29,261.70 L326.02,261.18 L326.76,260.96 L327.50,260.72 L328.23,260.99 L328.97,260.31 L329.70,260.15 L330.44,260.05 L331.18,260.65 L331.91,260.45 L332.65,260.92 L333.39,261.40 L334.12,261.79 L334.86,261.64 L335.59,263.23 L336.33,264.69 L337.07,265.87 L337.80,266.86 L338.54,269.23 L339.28,271.30 L340.01,273.04 L340.75,274.93 L341.48,273.71 L342.22,272.06 L342.96,270.33 L343.69,269.71 L344.43,269.28 L345.17,268.39 L345.90,268.40 L346.64,269.69 L347.37,270.79 L348.11,271.55 L348.85,271.09 L349.58,271.26 L350.32,270.92 L351.06,270.40 L351.79,269.97 L352.53,270.07 L353.26,269.41 L354.00,269.22' fill='none' stroke='#111' stroke-width='1.2'/>
<path d='M206.75,258.2 L206.75,314 L354.0,314 L354.0,258.2 L302.75,258.2 M206.75,258.2 L209.75,258.2' fill='none' stroke='#555' stroke-width='0.9'/>
<text x='211.75' y='261.2' font-size='8.15' fill='#111' text-anchor='start' stroke='#111' stroke-width='0.22' font-style='italic'>270 m × 270 m test area</text>
<path d='M206.75,258.20 h2.2 M354.0,258.20 h-2.2' stroke='#555' stroke-width='0.8'/>
<text x='205.55' y='260.4' font-size='6.3' fill='#333' text-anchor='end' stroke='#333' stroke-width='0.22' >1.0</text>
<path d='M206.75,276.80 h2.2 M354.0,276.80 h-2.2' stroke='#555' stroke-width='0.8'/>
<text x='205.55' y='278.99999999999994' font-size='6.3' fill='#333' text-anchor='end' stroke='#333' stroke-width='0.22' >0.9</text>
<path d='M206.75,295.40 h2.2 M354.0,295.40 h-2.2' stroke='#555' stroke-width='0.8'/>
<text x='205.55' y='297.59999999999997' font-size='6.3' fill='#333' text-anchor='end' stroke='#333' stroke-width='0.22' >0.8</text>
<path d='M206.75,314.00 h2.2 M354.0,314.00 h-2.2' stroke='#555' stroke-width='0.8'/>
<text x='205.55' y='316.2' font-size='6.3' fill='#333' text-anchor='end' stroke='#333' stroke-width='0.22' >0.7</text>
<path d='M236.20,314 v-2.2' stroke='#555' stroke-width='0.8'/>
<path d='M265.65,314 v-2.2' stroke='#555' stroke-width='0.8'/>
<path d='M295.10,314 v-2.2' stroke='#555' stroke-width='0.8'/>
<path d='M324.55,314 v-2.2 M324.55,258.2 v2.2' stroke='#555' stroke-width='0.8'/>
<path d='M283.55,284.60 h7' stroke='#111' stroke-width='1.1' />
<text x='293.15000000000003' y='286.70000000000005' font-size='5.85' fill='#222' text-anchor='start' stroke='#222' stroke-width='0.22' >Mean</text>
<path d='M283.55,292.00 h7' stroke='#bbb' stroke-width='1.1' />
<text x='293.15000000000003' y='294.1' font-size='5.85' fill='#222' text-anchor='start' stroke='#222' stroke-width='0.22' >Standard deviation</text>
<path d='M283.55,299.40 h7' stroke='#222' stroke-width='1.1' stroke-dasharray='1.4 0.9'/>
<text x='293.15000000000003' y='301.50000000000006' font-size='5.85' fill='#222' text-anchor='start' stroke='#222' stroke-width='0.22' >Nicolet lab spectra</text>
<text x='206.75' y='324.6' font-size='7.7' fill='#222' text-anchor='middle' stroke='#222' stroke-width='0.22' >8</text>
<text x='236.20' y='324.6' font-size='7.7' fill='#222' text-anchor='middle' stroke='#222' stroke-width='0.22' >9</text>
<text x='265.65' y='324.6' font-size='7.7' fill='#222' text-anchor='middle' stroke='#222' stroke-width='0.22' >10</text>
<text x='295.10' y='324.6' font-size='7.7' fill='#222' text-anchor='middle' stroke='#222' stroke-width='0.22' >11</text>
<text x='324.55' y='324.6' font-size='7.7' fill='#222' text-anchor='middle' stroke='#222' stroke-width='0.22' >12</text>
<text x='354.00' y='324.6' font-size='7.7' fill='#222' text-anchor='middle' stroke='#222' stroke-width='0.22' >13</text>
<text x='280.88' y='332' font-size='8.6' fill='#222' text-anchor='middle' stroke='#222' stroke-width='0.22' >Wavelength (µm)</text>
<text x='193.95' y='215' font-size='8.7' fill='#222' text-anchor='middle' stroke='#222' stroke-width='0.22' transform='rotate(-90 193.95 215)'>Emissivity</text>
<text x='193.95' y='281.5' font-size='8.7' fill='#222' text-anchor='middle' stroke='#222' stroke-width='0.22' transform='rotate(-90 193.95 281.5)'>Emissivity</text>
<path d='M389.30,203.06 L390.04,209.14 L390.77,215.22 L391.51,219.19 L392.24,221.75 L392.98,224.32 L393.71,226.52 L394.45,228.19 L395.18,229.87 L395.92,231.54 L396.65,232.37 L397.39,232.99 L398.12,233.61 L398.86,234.23 L399.59,234.46 L400.33,234.10 L401.06,233.73 L401.80,233.37 L402.53,232.90 L403.27,232.28 L404.00,231.66 L404.74,231.03 L405.47,230.41 L406.21,229.50 L406.94,228.59 L407.68,223.27 L408.41,226.46 L409.15,229.45 L409.88,230.88 L410.62,232.31 L411.35,233.05 L412.09,233.61 L412.82,234.17 L413.56,234.73 L414.29,235.29 L415.03,235.42 L415.76,235.26 L416.50,235.10 L417.23,234.93 L417.97,234.77 L418.70,234.61 L419.44,234.76 L420.17,234.91 L420.91,235.06 L421.64,235.21 L422.38,235.37 L423.11,235.52 L423.85,234.77 L424.58,234.03 L425.32,233.28 L426.05,232.54 L426.79,231.24 L427.52,229.58 L428.26,227.93 L428.99,226.27 L429.73,224.69 L430.46,223.43 L431.20,222.17 L431.93,220.90 L432.67,219.64 L433.40,218.38 L434.14,217.63 L434.87,216.88 L435.61,216.13 L436.34,215.38 L437.08,214.63 L437.81,213.87 L438.55,213.17 L439.28,212.64 L440.02,212.10 L440.75,211.57 L441.49,211.04 L442.22,210.51 L442.96,209.98 L443.69,209.44 L444.43,209.10 L445.16,208.76 L445.90,208.42 L446.63,208.08 L447.37,207.74 L448.10,207.39 L448.84,207.05 L449.57,206.71 L450.31,206.31 L451.04,205.92 L451.78,205.52 L452.51,205.12 L453.25,204.72 L453.98,204.33 L454.72,203.93 L455.45,203.53 L456.19,203.14 L456.92,202.74 L457.66,202.34 L458.39,201.95 L459.13,201.66 L459.86,201.45 L460.60,201.23 L461.33,201.02 L462.07,200.80 L462.80,200.59 L463.54,200.38 L464.27,200.16 L465.01,199.95 L465.74,199.74 L466.48,199.52 L467.21,199.31 L467.95,199.09 L468.68,198.96 L469.42,198.84 L470.15,198.72 L470.89,198.60 L471.62,198.49 L472.36,198.37 L473.09,198.25 L473.83,198.13 L474.56,198.02 L475.30,197.90 L476.03,197.78 L476.77,197.66 L477.50,197.57 L478.24,197.51 L478.97,197.44 L479.71,197.38 L480.44,197.32 L481.18,197.26 L481.91,197.20 L482.65,197.13 L483.38,197.07 L484.12,197.01 L484.85,196.95 L485.59,196.88 L486.32,196.82 L487.06,196.76 L487.79,196.70 L488.53,196.64 L489.26,196.57 L490.00,196.51 L490.73,196.47 L491.47,196.44 L492.20,196.40 L492.94,196.37 L493.67,196.34 L494.41,196.30 L495.14,196.27 L495.88,196.24 L496.61,196.20 L497.35,196.17 L498.08,196.13 L498.82,195.87 L499.55,195.60 L500.29,195.33 L501.02,195.07 L501.76,194.80 L502.49,194.53 L503.23,194.26 L503.96,194.00 L504.70,193.73 L505.43,193.46 L506.17,193.20 L506.90,192.98 L507.64,192.86 L508.37,192.73 L509.11,192.60 L509.84,192.48 L510.58,192.35 L511.31,192.22 L512.05,192.12 L512.78,192.08 L513.52,192.04 L514.25,192.00 L514.99,191.96 L515.72,191.92 L516.46,191.88 L517.19,191.84 L517.93,191.80 L518.66,191.76 L519.40,192.76 L520.13,193.76 L520.87,194.77 L521.60,195.77 L522.34,196.13 L523.07,196.50 L523.81,196.86 L524.54,197.23 L525.28,197.10 L526.01,196.97 L526.75,196.84 L527.48,196.71 L528.22,196.58 L528.95,196.56 L529.69,196.71 L530.42,196.86 L531.16,197.02 L531.89,197.17 L532.63,197.31 L533.36,197.44 L534.10,197.57 L534.83,197.70 L535.57,197.83 L536.30,197.96' fill='none' stroke='#2a2a2a' stroke-width='1.15' stroke-dasharray='1.5 1.1'/>
<path d='M389.30,213.53 L390.04,217.18 L390.77,220.34 L391.51,222.94 L392.24,224.13 L392.98,226.90 L393.71,228.59 L394.45,230.17 L395.18,231.12 L395.92,233.60 L396.65,233.97 L397.39,234.45 L398.12,234.62 L398.86,236.07 L399.59,235.59 L400.33,235.14 L401.06,234.55 L401.80,234.87 L402.53,233.55 L403.27,233.12 L404.00,232.57 L404.74,232.51 L405.47,231.03 L406.21,230.72 L406.94,229.77 L407.68,230.86 L408.41,230.89 L409.15,232.30 L409.88,233.21 L410.62,234.04 L411.35,234.06 L412.09,235.37 L412.82,235.89 L413.56,236.28 L414.29,236.55 L415.03,237.32 L415.76,236.73 L416.50,236.12 L417.23,235.78 L417.97,236.06 L418.70,235.30 L419.44,235.16 L420.17,235.51 L420.91,235.97 L421.64,235.54 L422.38,235.54 L423.11,236.07 L423.85,235.30 L424.58,233.96 L425.32,233.22 L426.05,232.89 L426.79,231.35 L427.52,229.43 L428.26,228.10 L428.99,226.95 L429.73,224.88 L430.46,223.35 L431.20,222.23 L431.93,221.06 L432.67,218.95 L433.40,217.73 L434.14,217.28 L434.87,216.64 L435.61,215.22 L436.34,215.02 L437.08,214.40 L437.81,213.60 L438.55,212.33 L439.28,212.55 L440.02,211.86 L440.75,211.19 L441.49,210.26 L442.22,210.58 L442.96,209.60 L443.69,208.98 L444.43,208.63 L445.16,209.29 L445.90,208.41 L446.63,208.32 L447.37,208.14 L448.10,208.64 L448.84,207.60 L449.57,207.75 L450.31,207.29 L451.04,207.21 L451.78,205.77 L452.51,205.82 L453.25,205.32 L453.98,205.00 L454.72,203.66 L455.45,203.92 L456.19,203.28 L456.92,202.77 L457.66,201.64 L458.39,202.01 L459.13,201.34 L459.86,201.04 L460.60,200.48 L461.33,201.14 L462.07,200.36 L462.80,200.09 L463.54,199.81 L464.27,200.30 L465.01,199.36 L465.74,199.22 L466.48,199.14 L467.21,199.37 L467.95,198.38 L468.68,198.50 L469.42,198.62 L470.15,198.63 L470.89,197.82 L471.62,198.15 L472.36,198.24 L473.09,197.97 L473.83,197.37 L474.56,197.81 L475.30,197.78 L476.03,197.30 L476.77,197.00 L477.50,197.48 L478.24,197.34 L478.97,196.86 L479.71,196.96 L480.44,197.36 L481.18,197.06 L481.91,196.61 L482.65,197.00 L483.38,197.16 L484.12,196.76 L484.85,196.46 L485.59,197.02 L486.32,196.87 L487.06,196.50 L487.79,196.37 L488.53,196.99 L489.26,196.53 L490.00,196.30 L490.73,196.34 L491.47,196.88 L492.20,196.17 L492.94,196.18 L493.67,196.31 L494.41,196.68 L495.14,195.83 L495.88,196.14 L496.61,196.24 L497.35,197.14 L498.08,197.00 L498.82,198.32 L499.55,199.00 L500.29,198.13 L501.02,196.52 L501.76,196.45 L502.49,195.31 L503.23,194.63 L503.96,193.73 L504.70,194.23 L505.43,193.31 L506.17,192.84 L506.90,192.39 L507.64,193.35 L508.37,192.71 L509.11,192.91 L509.84,192.96 L510.58,193.74 L511.31,192.96 L512.05,193.33 L512.78,193.33 L513.52,193.69 L514.25,192.73 L514.99,193.20 L515.72,193.20 L516.46,193.29 L517.19,192.46 L517.93,193.11 L518.66,193.00 L519.40,194.75 L520.13,196.03 L520.87,198.66 L521.60,200.76 L522.34,203.69 L523.07,206.56 L523.81,205.24 L524.54,202.73 L525.28,200.46 L526.01,199.34 L526.75,200.11 L527.48,199.70 L528.22,199.81 L528.95,200.29 L529.69,200.82 L530.42,200.42 L531.16,200.75 L531.89,201.37 L532.63,201.90 L533.36,202.15 L534.10,203.19 L534.83,204.35 L535.57,203.52 L536.30,201.83' fill='none' stroke='#333' stroke-width='0.9'/>
<path d='M389.30,212.96 L390.04,216.22 L390.77,219.73 L391.51,221.38 L392.24,223.71 L392.98,225.91 L393.71,227.82 L394.45,228.71 L395.18,230.79 L395.92,232.51 L396.65,233.08 L397.39,233.17 L398.12,234.32 L398.86,234.86 L399.59,234.65 L400.33,234.05 L401.06,234.18 L401.80,233.55 L402.53,232.63 L403.27,232.22 L404.00,232.05 L404.74,231.12 L405.47,230.19 L406.21,229.94 L406.94,229.05 L407.68,229.49 L408.41,230.15 L409.15,231.58 L409.88,232.28 L410.62,232.77 L411.35,233.41 L412.09,234.63 L412.82,234.77 L413.56,235.19 L414.29,235.93 L415.03,236.49 L415.76,235.48 L416.50,235.25 L417.23,235.12 L417.97,235.14 L418.70,234.01 L419.44,234.51 L420.17,234.74 L420.91,234.97 L421.64,234.29 L422.38,235.05 L423.11,235.11 L423.85,234.27 L424.58,232.81 L425.32,232.84 L426.05,231.72 L426.79,230.37 L427.52,228.38 L428.26,227.72 L428.99,225.58 L429.73,224.05 L430.46,222.60 L431.20,222.17 L431.93,220.12 L432.67,218.99 L433.40,217.72 L434.14,217.62 L434.87,215.99 L435.61,215.63 L436.34,214.97 L437.08,214.61 L437.81,212.99 L438.55,212.90 L439.28,212.39 L440.02,211.96 L440.75,210.69 L441.49,210.92 L442.22,210.27 L442.96,209.65 L443.69,208.63 L444.43,209.30 L445.16,208.82 L445.90,208.49 L446.63,208.14 L447.37,208.73 L448.10,208.06 L448.84,207.77 L449.57,207.69 L450.31,207.73 L451.04,206.58 L451.78,206.06 L452.51,205.83 L453.25,205.57 L453.98,204.41 L454.72,204.07 L455.45,203.92 L456.19,203.34 L456.92,202.30 L457.66,202.13 L458.39,201.94 L459.13,201.26 L459.86,200.76 L460.60,200.99 L461.33,200.95 L462.07,200.21 L462.80,200.03 L463.54,200.23 L464.27,200.02 L465.01,199.22 L465.74,199.35 L466.48,199.40 L467.21,199.03 L467.95,198.31 L468.68,198.78 L469.42,198.67 L470.15,198.32 L470.89,197.85 L471.62,198.48 L472.36,198.07 L473.09,197.76 L473.83,197.48 L474.56,198.13 L475.30,197.42 L476.03,197.26 L476.77,197.15 L477.50,197.72 L478.24,196.87 L478.97,197.03 L479.71,197.08 L480.44,197.49 L481.18,196.55 L481.91,196.99 L482.65,197.01 L483.38,197.19 L484.12,196.30 L484.85,197.00 L485.59,196.87 L486.32,196.87 L487.06,196.14 L487.79,197.00 L488.53,196.64 L489.26,196.55 L490.00,196.07 L490.73,196.95 L491.47,196.36 L492.20,196.28 L492.94,196.07 L493.67,196.83 L494.41,196.04 L495.14,196.09 L495.88,196.08 L496.61,196.62 L497.35,196.45 L498.08,197.43 L498.82,198.25 L499.55,199.23 L500.29,197.50 L501.02,197.09 L501.76,196.30 L502.49,195.40 L503.23,194.14 L503.96,194.37 L504.70,193.95 L505.43,193.33 L506.17,192.53 L506.90,193.02 L507.64,192.94 L508.37,192.73 L509.11,192.78 L509.84,193.49 L510.58,193.24 L511.31,193.04 L512.05,193.35 L512.78,193.69 L513.52,193.16 L514.25,192.92 L514.99,193.31 L515.72,193.35 L516.46,192.81 L517.19,192.75 L517.93,193.23 L518.66,192.94 L519.40,194.41 L520.13,196.40 L520.87,198.72 L521.60,200.55 L522.34,203.54 L523.07,206.92 L523.81,205.20 L524.54,202.44 L525.28,200.54 L526.01,199.62 L526.75,199.97 L527.48,199.42 L528.22,200.09 L528.95,200.41 L529.69,200.63 L530.42,200.20 L531.16,201.17 L531.89,201.28 L532.63,201.73 L533.36,202.03 L534.10,203.67 L534.83,204.04 L535.57,203.44 L536.30,201.81' fill='none' stroke='#222' stroke-width='0.9'/>
<path d='M389.30,212.19 L390.04,215.55 L390.77,218.45 L391.51,220.45 L392.24,223.06 L392.98,225.02 L393.71,226.58 L394.45,227.88 L395.18,230.19 L395.92,231.41 L396.65,231.96 L397.39,232.42 L398.12,233.68 L398.86,233.59 L399.59,233.72 L400.33,233.32 L401.06,233.45 L401.80,232.17 L402.53,231.92 L403.27,231.43 L404.00,231.21 L404.74,229.73 L405.47,229.68 L406.21,229.03 L406.94,228.13 L407.68,228.16 L408.41,229.78 L409.15,230.49 L409.88,231.34 L410.62,231.56 L411.35,233.12 L412.09,233.34 L412.82,233.88 L413.56,234.10 L414.29,235.61 L415.03,235.03 L415.76,234.71 L416.50,234.25 L417.23,234.70 L417.97,233.57 L418.70,233.40 L419.44,233.54 L420.17,234.17 L420.91,233.38 L421.64,233.84 L422.38,234.06 L423.11,234.39 L423.85,232.75 L424.58,232.50 L425.32,231.74 L426.05,230.89 L426.79,229.00 L427.52,228.13 L428.26,226.49 L428.99,224.70 L429.73,222.89 L430.46,222.53 L431.20,221.18 L431.93,219.81 L432.67,218.71 L433.40,218.23 L434.14,217.08 L434.87,216.12 L435.61,215.66 L436.34,215.30 L437.08,214.05 L437.81,213.23 L438.55,212.99 L439.28,212.51 L440.02,211.48 L440.75,211.03 L441.49,211.00 L442.22,210.20 L442.96,209.33 L443.69,209.03 L444.43,209.30 L445.16,208.61 L445.90,208.37 L446.63,208.52 L447.37,208.64 L448.10,207.80 L448.84,207.87 L449.57,207.97 L450.31,207.54 L451.04,206.33 L451.78,206.35 L452.51,205.93 L453.25,205.35 L453.98,204.24 L454.72,204.48 L455.45,203.81 L456.19,203.16 L456.92,202.24 L457.66,202.58 L458.39,201.61 L459.13,201.19 L459.86,200.78 L460.60,201.39 L461.33,200.46 L462.07,200.32 L462.80,200.08 L463.54,200.53 L464.27,199.43 L465.01,199.53 L465.74,199.37 L466.48,199.59 L467.21,198.45 L467.95,198.80 L468.68,198.69 L469.42,198.76 L470.15,197.81 L470.89,198.48 L471.62,198.23 L472.36,198.11 L473.09,197.38 L473.83,198.15 L474.56,197.70 L475.30,197.49 L476.03,197.04 L476.77,197.78 L477.50,197.14 L478.24,197.03 L478.97,196.93 L479.71,197.58 L480.44,196.83 L481.18,196.85 L481.91,196.95 L482.65,197.34 L483.38,196.54 L484.12,196.74 L484.85,196.94 L485.59,197.03 L486.32,196.30 L487.06,196.70 L487.79,196.87 L488.53,196.67 L489.26,196.15 L490.00,196.66 L490.73,196.71 L491.47,196.30 L492.20,196.09 L492.94,196.61 L493.67,196.48 L494.41,195.98 L495.14,196.09 L495.88,196.49 L496.61,196.19 L497.35,196.47 L498.08,197.58 L498.82,198.46 L499.55,198.80 L500.29,197.61 L501.02,197.31 L501.76,196.29 L502.49,195.05 L503.23,194.34 L503.96,194.59 L504.70,193.74 L505.43,193.14 L506.17,192.79 L506.90,193.17 L507.64,192.59 L508.37,192.75 L509.11,193.02 L509.84,193.54 L510.58,192.83 L511.31,193.28 L512.05,193.49 L512.78,193.65 L513.52,192.77 L514.25,193.35 L514.99,193.28 L515.72,193.26 L516.46,192.51 L517.19,193.29 L517.93,192.99 L518.66,192.88 L519.40,194.22 L520.13,196.96 L520.87,198.28 L521.60,200.58 L522.34,203.46 L523.07,207.43 L523.81,204.62 L524.54,202.63 L525.28,200.51 L526.01,200.02 L526.75,199.31 L527.48,199.79 L528.22,200.04 L528.95,200.66 L529.69,199.99 L530.42,200.75 L531.16,201.03 L531.89,201.41 L532.63,201.19 L533.36,202.68 L534.10,203.40 L534.83,204.10 L535.57,203.06 L536.30,202.49' fill='none' stroke='#ee2a10' stroke-width='1.0'/>
<path d='M389.30,211.66 L390.04,215.15 L390.77,217.35 L391.51,220.42 L392.24,222.40 L392.98,224.53 L393.71,225.57 L394.45,227.97 L395.18,229.35 L395.92,230.90 L396.65,231.09 L397.39,232.53 L398.12,232.67 L398.86,233.12 L399.59,232.98 L400.33,233.38 L401.06,232.30 L401.80,231.82 L402.53,231.28 L403.27,231.35 L404.00,229.99 L404.74,229.53 L405.47,229.08 L406.21,228.78 L406.94,226.93 L407.68,228.10 L408.41,229.16 L409.15,230.08 L409.88,230.25 L410.62,231.59 L411.35,232.40 L412.09,232.80 L412.82,232.96 L413.56,234.16 L414.29,234.77 L415.03,234.45 L415.76,233.99 L416.50,234.24 L417.23,233.75 L417.97,233.01 L418.70,232.87 L419.44,233.39 L420.17,233.15 L420.91,232.90 L421.64,233.44 L422.38,233.69 L423.11,233.39 L423.85,232.37 L424.58,232.15 L425.32,231.16 L426.05,229.99 L426.79,228.71 L427.52,227.76 L428.26,225.72 L428.99,223.98 L429.73,222.64 L430.46,222.08 L431.20,220.29 L431.93,219.31 L432.67,218.42 L433.40,217.68 L434.14,216.15 L434.87,215.83 L435.61,215.24 L436.34,214.66 L437.08,213.16 L437.81,213.12 L438.55,212.39 L439.28,211.85 L440.02,210.68 L440.75,211.02 L441.49,210.19 L442.22,209.59 L442.96,208.64 L443.69,209.02 L444.43,208.30 L445.16,208.12 L445.90,207.78 L446.63,208.44 L447.37,207.49 L448.10,207.47 L448.84,207.30 L449.57,207.77 L450.31,206.34 L451.04,206.19 L451.78,205.75 L452.51,205.59 L453.25,204.18 L453.98,204.26 L454.72,203.78 L455.45,203.36 L456.19,202.11 L456.92,202.36 L457.66,201.73 L458.39,201.12 L459.13,200.30 L459.86,200.91 L460.60,200.38 L461.33,199.99 L462.07,199.59 L462.80,200.13 L463.54,199.41 L464.27,199.05 L465.01,198.93 L465.74,199.26 L466.48,198.41 L467.21,198.19 L467.95,198.27 L468.68,198.38 L469.42,197.62 L470.15,197.68 L470.89,197.93 L471.62,197.74 L472.36,197.11 L473.09,197.33 L473.83,197.53 L474.56,197.07 L475.30,196.67 L476.03,196.99 L476.77,197.06 L477.50,196.44 L478.24,196.43 L478.97,196.80 L479.71,196.76 L480.44,196.13 L481.18,196.44 L481.91,196.66 L482.65,196.47 L483.38,195.91 L484.12,196.48 L484.85,196.44 L485.59,196.17 L486.32,195.77 L487.06,196.49 L487.79,196.15 L488.53,195.91 L489.26,195.71 L490.00,196.44 L490.73,195.80 L491.47,195.72 L492.20,195.69 L492.94,196.30 L493.67,195.45 L494.41,195.62 L495.14,195.66 L495.88,196.07 L496.61,195.13 L497.35,196.30 L498.08,197.04 L498.82,197.95 L499.55,197.79 L500.29,197.61 L501.02,196.61 L501.76,195.74 L502.49,194.15 L503.23,194.42 L503.96,193.69 L504.70,193.22 L505.43,192.36 L506.17,192.86 L506.90,192.10 L507.64,192.17 L508.37,192.09 L509.11,193.00 L509.84,192.35 L510.58,192.55 L511.31,192.68 L512.05,193.33 L512.78,192.42 L513.52,192.65 L514.25,192.73 L514.99,192.96 L515.72,192.09 L516.46,192.53 L517.19,192.59 L517.93,192.54 L518.66,191.84 L519.40,194.31 L520.13,196.14 L520.87,197.76 L521.60,199.73 L522.34,203.54 L523.07,206.48 L523.81,204.09 L524.54,201.96 L525.28,200.49 L526.01,198.96 L526.75,198.85 L527.48,199.27 L528.22,199.84 L528.95,199.58 L529.69,199.63 L530.42,200.31 L531.16,200.63 L531.89,200.38 L532.63,200.94 L533.36,202.25 L534.10,202.79 L534.83,203.22 L535.57,202.87 L536.30,202.00' fill='none' stroke='#f7941d' stroke-width='1.1'/>
<path d='M389.3,190.3 L389.3,245.0 L536.3,245.0 L536.3,190.3 L455.8,190.3 M389.3,190.3 L392.3,190.3' fill='none' stroke='#555' stroke-width='0.9'/>
<text x='394.3' y='193.3' font-size='8.15' fill='#111' text-anchor='start' stroke='#111' stroke-width='0.22' font-style='italic'>Scene elements</text>
<path d='M389.3,190.30 h2.2 M536.3,190.30 h-2.2' stroke='#555' stroke-width='0.8'/>
<text x='388.1' y='192.5' font-size='6.3' fill='#333' text-anchor='end' stroke='#333' stroke-width='0.22' >1.0</text>
<path d='M389.3,208.53 h2.2 M536.3,208.53 h-2.2' stroke='#555' stroke-width='0.8'/>
<text x='388.1' y='210.73333333333332' font-size='6.3' fill='#333' text-anchor='end' stroke='#333' stroke-width='0.22' >0.9</text>
<path d='M389.3,226.77 h2.2 M536.3,226.77 h-2.2' stroke='#555' stroke-width='0.8'/>
<text x='388.1' y='228.96666666666664' font-size='6.3' fill='#333' text-anchor='end' stroke='#333' stroke-width='0.22' >0.8</text>
<path d='M389.3,245.00 h2.2 M536.3,245.00 h-2.2' stroke='#555' stroke-width='0.8'/>
<text x='388.1' y='247.2' font-size='6.3' fill='#333' text-anchor='end' stroke='#333' stroke-width='0.22' >0.7</text>
<path d='M418.70,245.0 v-2.2' stroke='#555' stroke-width='0.8'/>
<path d='M448.10,245.0 v-2.2' stroke='#555' stroke-width='0.8'/>
<path d='M477.50,245.0 v-2.2 M477.50,190.3 v2.2' stroke='#555' stroke-width='0.8'/>
<path d='M506.90,245.0 v-2.2 M506.90,190.3 v2.2' stroke='#555' stroke-width='0.8'/>
<path d='M470.20000000000005,212.50 h7' stroke='#ee2a10' stroke-width='1.1' />
<text x='479.80000000000007' y='214.6' font-size='5.85' fill='#222' text-anchor='start' stroke='#222' stroke-width='0.22' >Slipface</text>
<path d='M470.20000000000005,220.05 h7' stroke='#333' stroke-width='1.1' />
<text x='479.80000000000007' y='222.15' font-size='5.85' fill='#222' text-anchor='start' stroke='#222' stroke-width='0.22' >Windward</text>
<path d='M470.20000000000005,227.60 h7' stroke='#f7941d' stroke-width='1.1' />
<text x='479.80000000000007' y='229.7' font-size='5.85' fill='#222' text-anchor='start' stroke='#222' stroke-width='0.22' >Interdune</text>
<path d='M470.20000000000005,235.15 h7' stroke='#222' stroke-width='1.1' stroke-dasharray='1.4 0.9'/>
<text x='479.80000000000007' y='237.25' font-size='5.85' fill='#222' text-anchor='start' stroke='#222' stroke-width='0.22' >Nicolet lab spectra</text>
<path d='M389.30,279.10 L390.04,281.59 L390.77,284.83 L391.51,287.62 L392.24,289.86 L392.98,291.23 L393.71,293.35 L394.45,295.29 L395.18,296.78 L395.92,297.86 L396.65,299.04 L397.39,299.86 L398.12,300.03 L398.86,300.33 L399.59,300.96 L400.33,300.61 L401.06,299.61 L401.80,299.22 L402.53,299.13 L403.27,298.45 L404.00,297.28 L404.74,297.07 L405.47,296.70 L406.21,295.78 L406.94,294.24 L407.68,295.74 L408.41,296.56 L409.15,297.15 L409.88,297.72 L410.62,299.34 L411.35,299.64 L412.09,300.05 L412.82,300.57 L413.56,301.92 L414.29,301.88 L415.03,301.92 L415.76,301.65 L416.50,301.92 L417.23,300.74 L417.97,300.67 L418.70,300.45 L419.44,300.93 L420.17,300.12 L420.91,300.77 L421.64,300.90 L422.38,301.16 L423.11,300.43 L423.85,300.38 L424.58,299.40 L425.32,298.56 L426.05,297.08 L426.79,296.71 L427.52,294.72 L428.26,293.05 L428.99,291.07 L429.73,290.53 L430.46,289.01 L431.20,288.11 L431.93,287.09 L432.67,286.98 L433.40,285.27 L434.14,284.69 L434.87,284.01 L435.61,283.81 L436.34,282.18 L437.08,281.81 L437.81,281.20 L438.55,280.75 L439.28,279.38 L440.02,279.42 L440.75,278.96 L441.49,278.38 L442.22,277.22 L442.96,277.39 L443.69,276.79 L444.43,276.40 L445.16,275.91 L445.90,276.48 L446.63,276.06 L447.37,275.60 L448.10,275.43 L448.84,275.88 L449.57,275.28 L450.31,274.51 L451.04,274.26 L451.78,274.10 L452.51,273.05 L453.25,272.42 L453.98,272.36 L454.72,271.88 L455.45,270.85 L456.19,270.41 L456.92,270.40 L457.66,269.59 L458.39,268.72 L459.13,268.62 L459.86,268.85 L460.60,268.08 L461.33,267.79 L462.07,267.88 L462.80,267.95 L463.54,267.03 L464.27,267.05 L465.01,267.09 L465.74,266.97 L466.48,266.03 L467.21,266.36 L467.95,266.24 L468.68,266.04 L469.42,265.31 L470.15,265.96 L470.89,265.68 L471.62,265.42 L472.36,264.89 L473.09,265.64 L473.83,265.06 L474.56,264.85 L475.30,264.53 L476.03,265.25 L476.77,264.40 L477.50,264.39 L478.24,264.32 L478.97,264.96 L479.71,264.01 L480.44,264.28 L481.18,264.30 L481.91,264.70 L482.65,263.71 L483.38,264.25 L484.12,264.22 L484.85,264.37 L485.59,263.49 L486.32,264.24 L487.06,264.07 L487.79,264.02 L488.53,263.36 L489.26,264.22 L490.00,263.84 L490.73,263.70 L491.47,263.32 L492.20,264.15 L492.94,263.55 L493.67,263.43 L494.41,263.33 L495.14,264.00 L495.88,263.23 L496.61,263.25 L497.35,264.09 L498.08,265.23 L498.82,265.15 L499.55,266.10 L500.29,265.42 L501.02,264.61 L501.76,262.99 L502.49,262.50 L503.23,262.09 L503.96,261.49 L504.70,260.59 L505.43,260.72 L506.17,260.38 L506.90,259.79 L507.64,259.72 L508.37,260.39 L509.11,260.41 L509.84,260.05 L510.58,260.31 L511.31,260.85 L512.05,260.67 L512.78,260.18 L513.52,260.57 L514.25,260.70 L514.99,260.29 L515.72,259.95 L516.46,260.52 L517.19,260.34 L517.93,259.95 L518.66,259.79 L519.40,262.34 L520.13,263.76 L520.87,265.43 L521.60,267.89 L522.34,271.68 L523.07,274.16 L523.81,272.10 L524.54,270.15 L525.28,268.46 L526.01,266.43 L526.75,266.98 L527.48,267.30 L528.22,267.71 L528.95,267.08 L529.69,267.97 L530.42,268.19 L531.16,268.47 L531.89,267.99 L532.63,269.42 L533.36,269.96 L534.10,270.70 L534.83,270.99 L535.57,271.42 L536.30,269.51' fill='none' stroke='#a8a8a8' stroke-width='0.7'/>
<path d='M389.30,284.08 L390.04,286.59 L390.77,290.35 L391.51,292.91 L392.24,294.82 L392.98,296.31 L393.71,298.97 L394.45,300.35 L395.18,301.79 L395.92,303.06 L396.65,304.68 L397.39,304.71 L398.12,305.18 L398.86,305.60 L399.59,306.54 L400.33,305.30 L401.06,304.96 L401.80,304.51 L402.53,304.60 L403.27,303.07 L404.00,302.84 L404.74,302.29 L405.47,302.06 L406.21,300.43 L406.94,299.98 L407.68,300.83 L408.41,301.83 L409.15,301.88 L409.88,303.58 L410.62,304.26 L411.35,304.89 L412.09,304.93 L412.82,306.46 L413.56,306.65 L414.29,307.18 L415.03,306.94 L415.76,307.47 L416.50,306.51 L417.23,306.15 L417.97,305.79 L418.70,306.14 L419.44,305.45 L420.17,305.68 L420.91,305.93 L421.64,306.41 L422.38,305.71 L423.11,306.13 L423.85,305.51 L424.58,304.74 L425.32,303.21 L426.05,302.88 L426.79,301.74 L427.52,299.94 L428.26,297.89 L428.99,296.89 L429.73,295.30 L430.46,293.32 L431.20,291.58 L431.93,290.55 L432.67,288.78 L433.40,286.74 L434.14,286.20 L434.87,285.88 L435.61,284.82 L436.34,283.72 L437.08,283.45 L437.81,282.87 L438.55,281.78 L439.28,281.03 L440.02,281.11 L440.75,280.40 L441.49,279.52 L442.22,278.96 L442.96,279.07 L443.69,278.04 L444.43,277.72 L445.16,277.69 L445.90,278.07 L446.63,277.19 L447.37,277.14 L448.10,277.17 L448.84,277.37 L449.57,276.38 L450.31,276.27 L451.04,275.88 L451.78,275.51 L452.51,274.18 L453.25,274.36 L453.98,273.79 L454.72,273.25 L455.45,272.08 L456.19,272.44 L456.92,271.61 L457.66,271.01 L458.39,270.07 L459.13,270.66 L459.86,269.87 L460.60,269.63 L461.33,269.22 L462.07,269.84 L462.80,268.82 L463.54,268.75 L464.27,268.52 L465.01,268.94 L465.74,267.79 L466.48,267.94 L467.21,267.80 L467.95,267.94 L468.68,266.89 L469.42,267.38 L470.15,267.29 L470.89,267.27 L471.62,266.40 L472.36,267.05 L473.09,266.82 L473.83,266.60 L474.56,265.99 L475.30,266.71 L476.03,266.27 L476.77,265.97 L477.50,265.69 L478.24,266.41 L478.97,265.85 L479.71,265.66 L480.44,265.72 L481.18,266.22 L481.91,265.54 L482.65,265.49 L483.38,265.75 L484.12,265.95 L484.85,265.26 L485.59,265.39 L486.32,265.73 L487.06,265.61 L487.79,265.05 L488.53,265.34 L489.26,265.64 L490.00,265.23 L490.73,264.92 L491.47,265.31 L492.20,265.46 L492.94,264.87 L493.67,264.87 L494.41,265.24 L495.14,265.21 L495.88,264.56 L496.61,264.88 L497.35,265.84 L498.08,266.39 L498.82,266.55 L499.55,267.88 L500.29,266.95 L501.02,265.79 L501.76,264.49 L502.49,264.34 L503.23,263.40 L503.96,262.78 L504.70,262.18 L505.43,262.54 L506.17,261.50 L506.90,261.25 L507.64,261.35 L508.37,262.13 L509.11,261.40 L509.84,261.72 L510.58,261.91 L511.31,262.48 L512.05,261.63 L512.78,262.07 L513.52,262.06 L514.25,262.23 L514.99,261.30 L515.72,261.99 L516.46,261.84 L517.19,261.82 L517.93,261.07 L518.66,261.92 L519.40,263.46 L520.13,265.27 L520.87,266.69 L521.60,270.01 L522.34,272.62 L523.07,275.77 L523.81,273.47 L524.54,272.18 L525.28,269.29 L526.01,268.19 L526.75,268.41 L527.48,269.18 L528.22,268.51 L528.95,269.01 L529.69,269.38 L530.42,269.91 L531.16,269.32 L531.89,270.05 L532.63,270.75 L533.36,271.54 L534.10,271.69 L534.83,273.14 L535.57,272.63 L536.30,271.01' fill='none' stroke='#a8a8a8' stroke-width='0.7'/>
<path d='M389.30,271.22 L390.04,277.42 L390.77,283.62 L391.51,287.67 L392.24,290.29 L392.98,292.90 L393.71,295.15 L394.45,296.86 L395.18,298.56 L395.92,300.27 L396.65,301.12 L397.39,301.75 L398.12,302.38 L398.86,303.02 L399.59,303.25 L400.33,302.88 L401.06,302.51 L401.80,302.13 L402.53,301.66 L403.27,301.02 L404.00,300.39 L404.74,299.75 L405.47,299.12 L406.21,298.19 L406.94,297.26 L407.68,291.83 L408.41,295.09 L409.15,298.14 L409.88,299.60 L410.62,301.06 L411.35,301.81 L412.09,302.38 L412.82,302.95 L413.56,303.53 L414.29,304.10 L415.03,304.23 L415.76,304.06 L416.50,303.90 L417.23,303.73 L417.97,303.56 L418.70,303.40 L419.44,303.55 L420.17,303.71 L420.91,303.86 L421.64,304.02 L422.38,304.17 L423.11,304.33 L423.85,303.57 L424.58,302.81 L425.32,302.05 L426.05,301.28 L426.79,299.97 L427.52,298.27 L428.26,296.58 L428.99,294.89 L429.73,293.28 L430.46,291.99 L431.20,290.71 L431.93,289.42 L432.67,288.13 L433.40,286.84 L434.14,286.08 L434.87,285.31 L435.61,284.55 L436.34,283.78 L437.08,283.01 L437.81,282.25 L438.55,281.53 L439.28,280.98 L440.02,280.44 L440.75,279.90 L441.49,279.36 L442.22,278.81 L442.96,278.27 L443.69,277.73 L444.43,277.38 L445.16,277.03 L445.90,276.68 L446.63,276.33 L447.37,275.99 L448.10,275.64 L448.84,275.29 L449.57,274.94 L450.31,274.53 L451.04,274.13 L451.78,273.72 L452.51,273.32 L453.25,272.91 L453.98,272.51 L454.72,272.10 L455.45,271.70 L456.19,271.29 L456.92,270.89 L457.66,270.48 L458.39,270.08 L459.13,269.79 L459.86,269.57 L460.60,269.35 L461.33,269.13 L462.07,268.92 L462.80,268.70 L463.54,268.48 L464.27,268.26 L465.01,268.04 L465.74,267.83 L466.48,267.61 L467.21,267.39 L467.95,267.17 L468.68,267.03 L469.42,266.91 L470.15,266.79 L470.89,266.67 L471.62,266.55 L472.36,266.43 L473.09,266.31 L473.83,266.19 L474.56,266.07 L475.30,265.95 L476.03,265.83 L476.77,265.71 L477.50,265.61 L478.24,265.55 L478.97,265.49 L479.71,265.42 L480.44,265.36 L481.18,265.30 L481.91,265.23 L482.65,265.17 L483.38,265.11 L484.12,265.04 L484.85,264.98 L485.59,264.92 L486.32,264.85 L487.06,264.79 L487.79,264.73 L488.53,264.66 L489.26,264.60 L490.00,264.54 L490.73,264.50 L491.47,264.46 L492.20,264.43 L492.94,264.39 L493.67,264.36 L494.41,264.32 L495.14,264.29 L495.88,264.26 L496.61,264.22 L497.35,264.19 L498.08,264.15 L498.82,263.88 L499.55,263.61 L500.29,263.33 L501.02,263.06 L501.76,262.79 L502.49,262.52 L503.23,262.24 L503.96,261.97 L504.70,261.70 L505.43,261.43 L506.17,261.15 L506.90,260.94 L507.64,260.81 L508.37,260.68 L509.11,260.55 L509.84,260.42 L510.58,260.29 L511.31,260.16 L512.05,260.05 L512.78,260.01 L513.52,259.97 L514.25,259.93 L514.99,259.89 L515.72,259.85 L516.46,259.81 L517.19,259.77 L517.93,259.73 L518.66,259.69 L519.40,260.71 L520.13,261.73 L520.87,262.76 L521.60,263.78 L522.34,264.15 L523.07,264.52 L523.81,264.90 L524.54,265.27 L525.28,265.14 L526.01,265.00 L526.75,264.87 L527.48,264.74 L528.22,264.60 L528.95,264.59 L529.69,264.74 L530.42,264.90 L531.16,265.05 L531.89,265.21 L532.63,265.35 L533.36,265.48 L534.10,265.61 L534.83,265.75 L535.57,265.88 L536.30,266.01' fill='none' stroke='#1a1a1a' stroke-width='1.1' stroke-dasharray='1.5 1.1'/>
<path d='M389.30,280.97 L390.04,284.44 L390.77,287.66 L391.51,290.35 L392.24,291.79 L392.98,294.27 L393.71,296.13 L394.45,297.77 L395.18,298.89 L395.92,301.04 L396.65,301.68 L397.39,302.16 L398.12,302.41 L398.86,303.53 L399.59,303.42 L400.33,302.84 L401.06,302.29 L401.80,302.32 L402.53,301.41 L403.27,300.74 L404.00,300.22 L404.74,299.95 L405.47,298.88 L406.21,298.22 L406.94,297.34 L407.68,298.33 L408.41,298.75 L409.15,299.77 L409.88,300.86 L410.62,301.64 L411.35,301.96 L412.09,302.84 L412.82,303.63 L413.56,303.98 L414.29,304.43 L415.03,304.80 L415.76,304.54 L416.50,303.85 L417.23,303.58 L417.97,303.52 L418.70,303.15 L419.44,302.86 L420.17,303.23 L420.91,303.48 L421.64,303.43 L422.38,303.21 L423.11,303.73 L423.85,302.86 L424.58,301.84 L425.32,300.80 L426.05,300.47 L426.79,298.92 L427.52,297.19 L428.26,295.52 L428.99,294.41 L429.73,292.44 L430.46,291.19 L431.20,289.97 L431.93,289.12 L432.67,287.31 L433.40,286.23 L434.14,285.57 L434.87,285.09 L435.61,283.74 L436.34,283.38 L437.08,282.66 L437.81,282.04 L438.55,280.79 L439.28,280.78 L440.02,280.14 L440.75,279.60 L441.49,278.64 L442.22,278.72 L442.96,277.92 L443.69,277.34 L444.43,276.92 L445.16,277.38 L445.90,276.80 L446.63,276.63 L447.37,276.39 L448.10,276.75 L448.84,276.04 L449.57,275.98 L450.31,275.49 L451.04,275.32 L451.78,274.21 L452.51,273.93 L453.25,273.49 L453.98,273.13 L454.72,272.06 L455.45,271.92 L456.19,271.45 L456.92,270.90 L457.66,269.96 L458.39,269.91 L459.13,269.53 L459.86,269.16 L460.60,268.73 L461.33,268.99 L462.07,268.61 L462.80,268.19 L463.54,267.97 L464.27,268.15 L465.01,267.65 L465.74,267.27 L466.48,267.24 L467.21,267.26 L467.95,266.69 L468.68,266.48 L469.42,266.67 L470.15,266.58 L470.89,266.13 L471.62,266.06 L472.36,266.28 L473.09,265.97 L473.83,265.63 L474.56,265.66 L475.30,265.84 L476.03,265.36 L476.77,265.19 L477.50,265.30 L478.24,265.45 L478.97,264.94 L479.71,265.06 L480.44,265.19 L481.18,265.22 L481.91,264.69 L482.65,265.02 L483.38,265.03 L484.12,264.95 L484.85,264.50 L485.59,264.98 L486.32,264.82 L487.06,264.69 L487.79,264.37 L488.53,264.92 L489.26,264.56 L490.00,264.46 L490.73,264.29 L491.47,264.81 L492.20,264.27 L492.94,264.28 L493.67,264.22 L494.41,264.63 L495.14,263.99 L495.88,264.16 L496.61,264.15 L497.35,265.14 L498.08,265.21 L498.82,266.30 L499.55,267.01 L500.29,266.20 L501.02,264.71 L501.76,264.31 L502.49,263.30 L503.23,262.66 L503.96,261.82 L504.70,261.99 L505.43,261.34 L506.17,260.84 L506.90,260.40 L507.64,261.09 L508.37,260.82 L509.11,260.87 L509.84,260.94 L510.58,261.51 L511.31,261.13 L512.05,261.24 L512.78,261.28 L513.52,261.51 L514.25,260.94 L514.99,261.04 L515.72,261.15 L516.46,261.17 L517.19,260.65 L517.93,260.88 L518.66,260.97 L519.40,262.71 L520.13,264.26 L520.87,266.49 L521.60,268.94 L522.34,271.86 L523.07,274.93 L523.81,273.18 L524.54,271.01 L525.28,268.58 L526.01,267.49 L526.75,267.97 L527.48,267.99 L528.22,267.89 L528.95,268.39 L529.69,268.75 L530.42,268.76 L531.16,268.80 L531.89,269.45 L532.63,269.94 L533.36,270.51 L534.10,271.23 L534.83,272.48 L535.57,271.67 L536.30,270.15' fill='none' stroke='#111' stroke-width='1.2'/>
<path d='M389.3,258.2 L389.3,314 L536.3,314 L536.3,258.2 L485.3,258.2 M389.3,258.2 L392.3,258.2' fill='none' stroke='#555' stroke-width='0.9'/>
<text x='394.3' y='261.2' font-size='8.15' fill='#111' text-anchor='start' stroke='#111' stroke-width='0.22' font-style='italic'>270 m × 270 m test area</text>
<path d='M389.3,258.20 h2.2 M536.3,258.20 h-2.2' stroke='#555' stroke-width='0.8'/>
<text x='388.1' y='260.4' font-size='6.3' fill='#333' text-anchor='end' stroke='#333' stroke-width='0.22' >1.0</text>
<path d='M389.3,276.80 h2.2 M536.3,276.80 h-2.2' stroke='#555' stroke-width='0.8'/>
<text x='388.1' y='278.99999999999994' font-size='6.3' fill='#333' text-anchor='end' stroke='#333' stroke-width='0.22' >0.9</text>
<path d='M389.3,295.40 h2.2 M536.3,295.40 h-2.2' stroke='#555' stroke-width='0.8'/>
<text x='388.1' y='297.59999999999997' font-size='6.3' fill='#333' text-anchor='end' stroke='#333' stroke-width='0.22' >0.8</text>
<path d='M389.3,314.00 h2.2 M536.3,314.00 h-2.2' stroke='#555' stroke-width='0.8'/>
<text x='388.1' y='316.2' font-size='6.3' fill='#333' text-anchor='end' stroke='#333' stroke-width='0.22' >0.7</text>
<path d='M418.70,314 v-2.2' stroke='#555' stroke-width='0.8'/>
<path d='M448.10,314 v-2.2' stroke='#555' stroke-width='0.8'/>
<path d='M477.50,314 v-2.2' stroke='#555' stroke-width='0.8'/>
<path d='M506.90,314 v-2.2 M506.90,258.2 v2.2' stroke='#555' stroke-width='0.8'/>
<path d='M470.9,284.60 h7' stroke='#111' stroke-width='1.1' />
<text x='480.5' y='286.70000000000005' font-size='5.85' fill='#222' text-anchor='start' stroke='#222' stroke-width='0.22' >Mean</text>
<path d='M470.9,292.00 h7' stroke='#bbb' stroke-width='1.1' />
<text x='480.5' y='294.1' font-size='5.85' fill='#222' text-anchor='start' stroke='#222' stroke-width='0.22' >Standard deviation</text>
<path d='M470.9,299.40 h7' stroke='#222' stroke-width='1.1' stroke-dasharray='1.4 0.9'/>
<text x='480.5' y='301.50000000000006' font-size='5.85' fill='#222' text-anchor='start' stroke='#222' stroke-width='0.22' >Nicolet lab spectra</text>
<text x='389.30' y='324.6' font-size='7.7' fill='#222' text-anchor='middle' stroke='#222' stroke-width='0.22' >8</text>
<text x='418.70' y='324.6' font-size='7.7' fill='#222' text-anchor='middle' stroke='#222' stroke-width='0.22' >9</text>
<text x='448.10' y='324.6' font-size='7.7' fill='#222' text-anchor='middle' stroke='#222' stroke-width='0.22' >10</text>
<text x='477.50' y='324.6' font-size='7.7' fill='#222' text-anchor='middle' stroke='#222' stroke-width='0.22' >11</text>
<text x='506.90' y='324.6' font-size='7.7' fill='#222' text-anchor='middle' stroke='#222' stroke-width='0.22' >12</text>
<text x='536.30' y='324.6' font-size='7.7' fill='#222' text-anchor='middle' stroke='#222' stroke-width='0.22' >13</text>
<text x='463.30' y='332' font-size='8.6' fill='#222' text-anchor='middle' stroke='#222' stroke-width='0.22' >Wavelength (µm)</text>
<text x='376.5' y='215' font-size='8.7' fill='#222' text-anchor='middle' stroke='#222' stroke-width='0.22' transform='rotate(-90 376.5 215)'>Emissivity</text>
<text x='376.5' y='281.5' font-size='8.7' fill='#222' text-anchor='middle' stroke='#222' stroke-width='0.22' transform='rotate(-90 376.5 281.5)'>Emissivity</text>
<path d='M38.5,368.5 L38.9,368.5 L39.2,394.7 L39.6,368.5 L40.0,384.6 L40.3,368.5 L40.7,368.5 L41.1,382.5 L41.4,368.5 L41.8,368.5 L42.2,368.5 L42.5,368.5 L42.9,368.5 L43.3,416.1 L43.6,368.5 L44.0,368.5 L44.4,392.4 L44.7,435.5 L45.1,387.8 L45.5,368.5 L45.8,440.6 L46.2,368.5 L46.6,420.8 L46.9,368.5 L47.3,368.5 L47.7,368.5 L48.0,368.5 L48.4,414.6 L48.8,368.5 L49.1,388.2 L49.5,393.5 L49.9,368.5 L50.2,385.5 L50.6,368.5 L51.0,368.5 L51.3,368.5 L51.7,397.7 L52.1,368.5 L52.4,368.5 L52.8,388.6 L53.1,379.1 L53.5,368.5 L53.9,411.6 L54.2,399.8 L54.6,368.5 L55.0,387.6 L55.3,383.8 L55.7,423.4 L56.1,403.3 L56.4,368.5 L56.8,441.4 L57.2,368.5 L57.5,368.5 L57.9,406.7 L58.3,368.5 L58.6,381.3 L59.0,368.5 L59.4,396.4 L59.7,407.6 L60.1,387.5 L60.5,423.4 L60.8,368.5 L61.2,399.4 L61.6,389.3 L61.9,388.1 L62.3,379.2 L62.7,418.0 L63.0,434.9 L63.4,380.3 L63.8,396.0 L64.1,368.5 L64.5,400.0 L64.9,394.3 L65.2,443.8 L65.6,415.4 L66.0,368.5 L66.3,368.5 L66.7,396.5 L67.1,368.5 L67.4,379.6 L67.8,368.5 L68.2,368.5 L68.5,368.5 L68.9,408.1 L69.3,368.5 L69.6,368.5 L70.0,368.5 L70.4,422.8 L70.7,371.1 L71.1,374.1 L71.5,377.2 L71.8,380.3 L72.2,383.3 L72.6,386.4 L72.9,389.5 L73.3,392.5 L73.7,395.6 L74.0,398.7 L74.4,401.7 L74.8,404.8 L75.1,407.9 L75.5,410.9 L75.9,414.0 L76.2,417.1 L76.6,420.1 L77.0,423.2 L77.3,426.3 L77.7,429.3 L78.1,431.6 L78.4,433.8 L78.8,435.9 L79.2,438.1 L79.5,440.2 L79.9,442.3 L80.3,444.5 L80.6,446.6 L81.0,448.8 L81.4,450.9 L81.7,453.1 L82.1,455.2 L82.4,457.4 L82.8,459.5 L83.2,459.4 L83.5,459.4 L83.9,459.4 L84.3,459.4 L84.6,459.4 L85.0,459.4 L85.4,459.4 L85.7,458.2 L86.1,455.2 L86.5,452.3 L86.8,449.4 L87.2,446.4 L87.6,443.5 L87.9,440.6 L88.3,437.6 L88.7,434.7 L89.0,431.8 L89.4,428.8 L89.8,425.9 L90.1,423.0 L90.5,420.0 L90.9,417.1 L91.2,414.2 L91.6,411.2 L92.0,408.3 L92.3,405.4 L92.7,402.4 L93.1,399.5 L93.4,396.6 L93.8,393.6 L94.2,390.7 L94.5,387.8 L94.9,384.8 L95.3,381.9 L95.6,379.0 L96.0,376.0 L96.4,372.9 L96.7,390.6 L97.1,381.4 L97.5,375.5 L97.8,373.5 L98.2,373.8 L98.6,374.0 L98.9,378.6 L99.3,375.1 L99.7,379.5 L100.0,375.2 L100.4,375.5 L100.8,381.6 L101.1,394.7 L101.5,384.2 L101.9,382.2 L102.2,382.9 L102.6,380.3 L103.0,377.2 L103.3,377.7 L103.7,377.5 L104.1,377.5 L104.4,377.6 L104.8,377.6 L105.2,377.7 L105.5,379.9 L105.9,393.2 L106.3,377.7 L106.6,391.2 L107.0,396.3 L107.4,392.6 L107.7,377.0 L108.1,376.7 L108.5,376.5 L108.8,376.3 L109.2,376.0 L109.6,376.9 L109.9,386.3 L110.3,382.4 L110.6,375.1 L111.0,376.2 L111.4,379.6 L111.7,374.0 L112.1,375.4 L112.5,385.0 L112.8,377.8 L113.2,376.5 L113.6,372.9 L113.9,372.4 L114.3,377.1 L114.7,372.1 L115.0,377.3 L115.4,389.0 L115.8,371.7 L116.1,371.7 L116.5,386.3 L116.9,374.5 L117.2,371.5 L117.6,371.6 L118.0,371.7 L118.3,383.0 L118.7,377.5 L119.1,372.0 L119.4,378.7 L119.8,390.6 L120.2,374.3 L120.5,372.9 L120.9,373.7 L121.3,373.4 L121.6,373.7 L122.0,391.1 L122.4,375.8 L122.7,375.0 L123.1,388.4 L123.5,375.3 L123.8,384.4 L124.2,382.3 L124.6,376.0 L124.9,376.3 L125.3,376.5 L125.7,376.8 L126.0,377.8 L126.4,377.1 L126.8,377.4 L127.1,377.4 L127.5,400.6 L127.9,378.9 L128.2,380.6 L128.6,383.7 L129.0,400.3 L129.3,379.9 L129.7,401.2 L130.1,381.3 L130.4,381.9 L130.8,381.5 L131.2,377.0 L131.5,379.4 L131.9,376.7 L132.3,376.3 L132.6,391.7 L133.0,375.9 L133.4,378.7 L133.7,386.9 L134.1,380.2 L134.5,375.7 L134.8,378.6 L135.2,379.3 L135.6,388.5 L135.9,373.5 L136.3,378.6 L136.7,373.4 L137.0,373.3 L137.4,386.6 L137.8,376.2 L138.1,385.5 L138.5,397.8 L138.8,411.3 L139.2,380.8 L139.6,388.4 L139.9,383.3 L140.3,383.6 L140.7,393.4 L141.0,381.4 L141.4,384.7 L141.8,382.5 L142.1,414.8 L142.5,394.1 L142.9,408.4 L143.2,415.0 L143.6,377.1 L144.0,386.3 L144.3,415.3 L144.7,405.4 L145.1,376.0 L145.4,376.0 L145.8,381.8 L146.2,375.9 L146.5,377.2 L146.9,376.1 L147.3,392.9 L147.6,401.1 L148.0,411.2 L148.4,376.7 L148.7,396.2 L149.1,392.6 L149.5,376.7 L149.8,410.1 L150.2,418.9 L150.6,377.6 L150.9,417.3 L151.3,381.3 L151.7,384.4 L152.0,421.6 L152.4,405.9 L152.8,377.4 L153.1,382.6 L153.5,385.8 L153.9,380.2 L154.2,377.9 L154.6,379.8 L155.0,397.6 L155.3,377.3 L155.7,387.9 L156.1,383.3 L156.4,377.5 L156.8,380.4 L157.2,391.7 L157.5,386.3 L157.9,377.8 L158.3,422.1 L158.6,403.2 L159.0,420.7 L159.4,378.1 L159.7,379.7 L160.1,378.1 L160.5,402.7 L160.8,379.9 L161.2,378.5 L161.6,383.6 L161.9,414.8 L162.3,406.3 L162.7,380.0 L163.0,378.9 L163.4,415.8 L163.8,389.9 L164.1,397.6 L164.5,378.8 L164.9,378.8 L165.2,396.9 L165.6,384.3 L166.0,379.0 L166.3,418.3 L166.7,393.8 L167.1,405.6 L167.4,379.3 L167.8,410.5 L168.1,379.4 L168.5,411.2 L168.9,385.8 L169.2,382.6' fill='none' stroke='#c0c0c0' stroke-width='0.6'/>
<path d='M40.1,463.5 L41.1,432.8 L42.2,375.6 L42.9,369.5 L43.7,376.6 L44.8,366.4 L46.3,363.3 L47.7,371.5 L49.0,368.5 L49.7,402.2 L50.5,453.3 L51.6,463.5' fill='none' stroke='#4a4a4a' stroke-width='0.85' stroke-linejoin='round'/>
<path d='M48.2,463.5 L49.2,422.6 L50.3,373.6 L51.6,377.7 L53.1,369.5 L54.7,364.4 L56.0,365.4 L57.3,368.5 L58.6,412.4 L59.7,458.4 L60.5,463.5' fill='none' stroke='#4a4a4a' stroke-width='0.85' stroke-linejoin='round'/>
<path d='M59.4,463.5 L60.5,422.6 L61.5,373.6 L62.8,377.7 L64.1,369.5 L66.0,362.3 L67.3,364.4 L68.8,369.5 L70.2,412.4 L71.2,458.4 L72.0,463.5' fill='none' stroke='#4a4a4a' stroke-width='0.85' stroke-linejoin='round'/>
<path d='M96.1,463.5 L97.6,432.8 L99.5,373.6 L101.3,371.5 L102.9,376.6 L105.2,367.4 L107.8,364.4 L110.4,362.3 L113.1,364.4 L114.9,376.6 L116.2,432.8 L117.2,460.4 L118.3,463.5' fill='none' stroke='#4a4a4a' stroke-width='0.85' stroke-linejoin='round'/>
<path d='M112.8,463.5 L114.4,427.7 L116.2,371.5 L117.8,363.3 L120.1,362.3 L122.2,365.4 L124.8,366.4 L126.9,373.6 L128.8,392.0 L131.4,422.6 L133.5,448.2 L135.3,460.4 L136.6,463.5' fill='none' stroke='#4a4a4a' stroke-width='0.85' stroke-linejoin='round'/>
<path d='M38.5,361.3 L169.3,361.3 L169.3,463.5 L38.5,463.5 Z' fill='none' stroke='#333' stroke-width='0.9'/>
<path d='M38.5,361.3 L169.3,361.3 M38.5,361.3 L38.5,463.5 L169.3,463.5' fill='none' stroke='#222' stroke-width='1.4'/>
<path d='M37.0,443.1 h3.5 M169.3,443.1 h-2.5' stroke='#222' stroke-width='0.9'/>
<path d='M37.0,422.6 h3.5 M169.3,422.6 h-2.5' stroke='#222' stroke-width='0.9'/>
<path d='M37.0,402.2 h3.5 M169.3,402.2 h-2.5' stroke='#222' stroke-width='0.9'/>
<path d='M37.0,381.7 h3.5 M169.3,381.7 h-2.5' stroke='#222' stroke-width='0.9'/>
<path d='M64.7,360.3 v3 M64.7,463.5 v-2.5' stroke='#222' stroke-width='0.9'/>
<path d='M90.8,360.3 v3 M90.8,463.5 v-2.5' stroke='#222' stroke-width='0.9'/>
<path d='M117.0,360.3 v3 M117.0,463.5 v-2.5' stroke='#222' stroke-width='0.9'/>
<path d='M143.1,360.3 v3 M143.1,463.5 v-2.5' stroke='#222' stroke-width='0.9'/>
<text x='36.0' y='363.7' font-size='7.2' fill='#222' text-anchor='end' stroke='#222' stroke-width='0.22' >1.0</text>
<text x='36.0' y='404.58' font-size='7.2' fill='#222' text-anchor='end' stroke='#222' stroke-width='0.22' >0.6</text>
<text x='36.0' y='445.46' font-size='7.2' fill='#222' text-anchor='end' stroke='#222' stroke-width='0.22' >0.2</text>
<text x='38.5' y='473.8' font-size='7.8' fill='#222' text-anchor='middle' stroke='#222' stroke-width='0.22' >8</text>
<text x='64.7' y='473.8' font-size='7.8' fill='#222' text-anchor='middle' stroke='#222' stroke-width='0.22' >9</text>
<text x='90.8' y='473.8' font-size='7.8' fill='#222' text-anchor='middle' stroke='#222' stroke-width='0.22' >10</text>
<text x='117.0' y='473.8' font-size='7.8' fill='#222' text-anchor='middle' stroke='#222' stroke-width='0.22' >11</text>
<text x='143.1' y='473.8' font-size='7.8' fill='#222' text-anchor='middle' stroke='#222' stroke-width='0.22' >12</text>
<text x='169.3' y='473.8' font-size='7.8' fill='#222' text-anchor='middle' stroke='#222' stroke-width='0.22' >13</text>
<text x='103.9' y='485' font-size='8.3' fill='#222' text-anchor='middle' stroke='#222' stroke-width='0.22' >Wavelength (µm)</text>
<text x='19.8' y='409.5' font-size='8.1' fill='#222' text-anchor='middle' stroke='#222' stroke-width='0.22' transform='rotate(-90 19.8 409.5)'>Normalized response, τ</text>
<text x='42' y='420.6' font-size='7' fill='#222' text-anchor='start' stroke='#222' stroke-width='0.22' font-style='italic'>10</text>
<text x='52.4' y='420.6' font-size='7' fill='#222' text-anchor='start' stroke='#222' stroke-width='0.22' font-style='italic'>11</text>
<text x='62.8' y='420.6' font-size='7' fill='#222' text-anchor='start' stroke='#222' stroke-width='0.22' font-style='italic'>12</text>
<text x='103.8' y='420.6' font-size='7' fill='#222' text-anchor='start' stroke='#222' stroke-width='0.22' font-style='italic'>13</text>
<text x='120.4' y='420.6' font-size='7' fill='#222' text-anchor='start' stroke='#222' stroke-width='0.22' font-style='italic'>14</text>
<text x='73.2' y='432.2' font-size='8.3' fill='#222' text-anchor='start' stroke='#222' stroke-width='0.22' font-style='italic'>ASTER</text>
<text x='70.2' y='440.3' font-size='8.1' fill='#222' text-anchor='start' stroke='#222' stroke-width='0.22' font-style='italic'>Channels</text>
<path d='M203.50,379.17 L204.10,386.03 L204.70,392.90 L205.30,401.14 L205.90,410.75 L206.50,420.37 L207.10,427.23 L207.70,434.10 L208.30,438.27 L208.90,439.74 L209.50,441.21 L210.10,442.68 L210.70,443.11 L211.30,443.54 L211.90,443.97 L212.50,444.40 L213.10,444.61 L213.70,444.81 L214.30,445.02 L214.90,445.22 L215.50,445.43 L216.10,444.88 L216.70,444.33 L217.30,443.78 L217.90,443.23 L218.50,442.68 L219.10,440.23 L219.70,437.78 L220.30,435.33 L220.90,431.01 L221.50,424.83 L222.10,418.65 L222.70,424.83 L223.30,431.01 L223.90,435.39 L224.50,437.96 L225.10,440.54 L225.70,443.11 L226.30,444.67 L226.90,445.22 L227.50,445.77 L228.10,446.32 L228.70,446.87 L229.30,447.28 L229.90,447.56 L230.50,447.83 L231.10,448.11 L231.70,448.38 L232.30,448.66 L232.90,448.93 L233.50,449.21 L234.10,449.34 L234.70,449.48 L235.30,449.62 L235.90,449.76 L236.50,449.89 L237.10,449.62 L237.70,449.34 L238.30,449.07 L238.90,448.79 L239.50,448.52 L240.10,447.01 L240.70,445.50 L241.30,443.99 L241.90,442.48 L242.50,440.97 L243.10,438.91 L243.70,436.85 L244.30,434.79 L244.90,432.73 L245.50,430.67 L246.10,428.53 L246.70,426.39 L247.30,424.26 L247.90,422.12 L248.50,420.05 L249.10,418.06 L249.70,416.06 L250.30,414.06 L250.90,412.06 L251.50,410.07 L252.10,408.73 L252.70,407.39 L253.30,406.06 L253.90,404.72 L254.50,403.38 L255.10,402.04 L255.70,400.71 L256.30,399.37 L256.90,398.03 L257.50,396.91 L258.10,395.99 L258.70,395.07 L259.30,394.16 L259.90,393.24 L260.50,392.33 L261.10,391.41 L261.70,390.50 L262.30,389.58 L262.90,388.67 L263.50,387.75 L264.10,387.06 L264.70,386.38 L265.30,385.69 L265.90,385.00 L266.50,384.32 L267.10,383.63 L267.70,382.94 L268.30,382.26 L268.90,381.57 L269.50,380.88 L270.10,380.44 L270.70,379.99 L271.30,379.54 L271.90,379.10 L272.50,378.65 L273.10,378.21 L273.70,377.76 L274.30,377.31 L274.90,376.87 L275.50,376.42 L276.10,376.28 L276.70,376.15 L277.30,376.01 L277.90,375.87 L278.50,375.73 L279.10,375.60 L279.70,375.46 L280.30,375.32 L280.90,375.18 L281.50,375.05 L282.10,375.00 L282.70,374.96 L283.30,374.91 L283.90,374.86 L284.50,374.82 L285.10,374.77 L285.70,374.73 L286.30,374.68 L286.90,374.63 L287.50,374.59 L288.10,374.54 L288.70,374.50 L289.30,374.45 L289.90,374.41 L290.50,374.36 L291.10,374.27 L291.70,374.19 L292.30,374.10 L292.90,374.02 L293.50,373.93 L294.10,373.85 L294.70,373.76 L295.30,373.67 L295.90,373.59 L296.50,373.50 L297.10,373.42 L297.70,373.33 L298.30,373.24 L298.90,373.16 L299.50,373.07 L300.10,372.99 L300.70,372.90 L301.30,372.82 L301.90,372.73 L302.50,372.64 L303.10,372.44 L303.70,372.23 L304.30,372.03 L304.90,371.82 L305.50,371.61 L306.10,371.41 L306.70,371.20 L307.30,371.00 L307.90,370.79 L308.50,370.58 L309.10,370.38 L309.70,370.17 L310.30,369.97 L310.90,369.76 L311.50,369.55 L312.10,369.33 L312.70,369.11 L313.30,368.89 L313.90,368.66 L314.50,368.44 L315.10,368.22 L315.70,367.99 L316.30,367.77 L316.90,367.55 L317.50,367.33 L318.10,367.10 L318.70,366.88 L319.30,366.66 L319.90,366.44 L320.50,366.21 L321.10,365.99 L321.70,365.77 L322.30,365.54 L322.90,365.36 L323.50,365.21 L324.10,365.06 L324.70,364.91 L325.30,364.76 L325.90,364.61 L326.50,364.46 L327.10,364.31 L327.70,364.16 L328.30,364.02 L328.90,363.87 L329.50,363.72 L330.10,363.57 L330.70,363.42 L331.30,363.28 L331.90,363.13 L332.50,362.98 L333.10,362.83 L333.70,362.69 L334.30,364.12 L334.90,365.56 L335.50,366.99 L336.10,368.43 L336.70,369.87 L337.30,371.56 L337.90,373.53 L338.50,375.49 L339.10,377.45 L339.70,377.71 L340.30,377.96 L340.90,378.22 L341.50,378.48 L342.10,377.79 L342.70,377.11 L343.30,376.42 L343.90,375.73 L344.50,375.05 L345.10,375.53 L345.70,376.01 L346.30,376.49 L346.90,376.97 L347.50,377.45 L348.10,378.31 L348.70,379.17 L349.30,380.02 L349.90,380.88 L350.50,381.37 L351.10,381.86 L351.70,382.35 L352.30,382.26 L352.90,381.57 L353.50,380.88' fill='none' stroke='#333' stroke-width='0.9' stroke-dasharray='1.5 1.2'/>
<path d='M212.2,433.4 L222.4,431.7 L235.9,438.6 L283.3,371.3 L302.2,369.2' fill='none' stroke='#f6a898' stroke-width='1.15'/>
<path d='M212.2,438.2 L222.4,436.8 L235.9,443.7 L283.3,374.0 L302.2,371.6' fill='none' stroke='#909090' stroke-width='1.15'/>
<path d='M212.2,435.8 L222.4,434.4 L235.9,441.0 L283.3,372.6 L302.2,370.6' fill='none' stroke='#f8c49c' stroke-width='1.15'/>
<path d='M214.0,437.9 L224.2,437.2 L237.7,444.4 L285.1,376.4 L304.0,373.0' fill='none' stroke='#f42a20' stroke-width='1.15'/>
<path d='M214.0,443.0 L224.2,441.7 L237.7,449.2 L285.1,377.8 L304.0,374.4' fill='none' stroke='#111' stroke-width='1.15'/>
<path d='M214.0,440.3 L224.2,439.2 L237.7,446.8 L285.1,377.1 L304.0,373.7' fill='none' stroke='#f48a30' stroke-width='1.15'/>
<rect x='210.8' y='432.0' width='2.8' height='2.8' fill='#fbd0c8' stroke='#f04040' stroke-width='0.7'/>
<rect x='221.0' y='430.3' width='2.8' height='2.8' fill='#fbd0c8' stroke='#f04040' stroke-width='0.7'/>
<rect x='234.5' y='437.2' width='2.8' height='2.8' fill='#fbd0c8' stroke='#f04040' stroke-width='0.7'/>
<rect x='281.9' y='369.9' width='2.8' height='2.8' fill='#fbd0c8' stroke='#f04040' stroke-width='0.7'/>
<rect x='300.8' y='367.8' width='2.8' height='2.8' fill='#fbd0c8' stroke='#f04040' stroke-width='0.7'/>
<rect x='210.8' y='436.8' width='2.8' height='2.8' fill='#888' stroke='#444' stroke-width='0.7'/>
<rect x='221.0' y='435.4' width='2.8' height='2.8' fill='#888' stroke='#444' stroke-width='0.7'/>
<rect x='234.5' y='442.3' width='2.8' height='2.8' fill='#888' stroke='#444' stroke-width='0.7'/>
<rect x='281.9' y='372.6' width='2.8' height='2.8' fill='#888' stroke='#444' stroke-width='0.7'/>
<rect x='300.8' y='370.2' width='2.8' height='2.8' fill='#888' stroke='#444' stroke-width='0.7'/>
<rect x='210.8' y='434.4' width='2.8' height='2.8' fill='#fad8b8' stroke='#f5a060' stroke-width='0.7'/>
<rect x='221.0' y='433.0' width='2.8' height='2.8' fill='#fad8b8' stroke='#f5a060' stroke-width='0.7'/>
<rect x='234.5' y='439.6' width='2.8' height='2.8' fill='#fad8b8' stroke='#f5a060' stroke-width='0.7'/>
<rect x='281.9' y='371.2' width='2.8' height='2.8' fill='#fad8b8' stroke='#f5a060' stroke-width='0.7'/>
<rect x='300.8' y='369.2' width='2.8' height='2.8' fill='#fad8b8' stroke='#f5a060' stroke-width='0.7'/>
<circle cx='214.0' cy='437.9' r='1.6' fill='#f42a20'/>
<circle cx='224.2' cy='437.2' r='1.6' fill='#f42a20'/>
<circle cx='237.7' cy='444.4' r='1.6' fill='#f42a20'/>
<circle cx='285.1' cy='376.4' r='1.6' fill='#f42a20'/>
<circle cx='304.0' cy='373.0' r='1.6' fill='#f42a20'/>
<circle cx='214.0' cy='443.0' r='1.6' fill='#111'/>
<circle cx='224.2' cy='441.7' r='1.6' fill='#111'/>
<circle cx='237.7' cy='449.2' r='1.6' fill='#111'/>
<circle cx='285.1' cy='377.8' r='1.6' fill='#111'/>
<circle cx='304.0' cy='374.4' r='1.6' fill='#111'/>
<circle cx='214.0' cy='440.3' r='1.6' fill='#f48a30'/>
<circle cx='224.2' cy='439.2' r='1.6' fill='#f48a30'/>
<circle cx='237.7' cy='446.8' r='1.6' fill='#f48a30'/>
<circle cx='285.1' cy='377.1' r='1.6' fill='#f48a30'/>
<circle cx='304.0' cy='373.7' r='1.6' fill='#f48a30'/>
<path d='M207.5,362.0 L203.5,362.0 L203.5,465.0 L353.5,465.0 L353.5,362.0 L274.5,362.0' fill='none' stroke='#444' stroke-width='0.9'/>
<text x='209.5' y='364.8' font-size='8.3' fill='#222' text-anchor='start' stroke='#222' stroke-width='0.22' font-style='italic'>Scene elements</text>
<path d='M203.5,362.0 h2.5 M353.5,362.0 h-2.5' stroke='#444' stroke-width='0.8'/>
<text x='201.5' y='364.4' font-size='7.2' fill='#222' text-anchor='end' stroke='#222' stroke-width='0.22' >1.0</text>
<path d='M203.5,396.3 h2.5 M353.5,396.3 h-2.5' stroke='#444' stroke-width='0.8'/>
<text x='201.5' y='398.7333333333333' font-size='7.2' fill='#222' text-anchor='end' stroke='#222' stroke-width='0.22' >0.9</text>
<path d='M203.5,430.7 h2.5 M353.5,430.7 h-2.5' stroke='#444' stroke-width='0.8'/>
<text x='201.5' y='433.0666666666666' font-size='7.2' fill='#222' text-anchor='end' stroke='#222' stroke-width='0.22' >0.8</text>
<path d='M203.5,465.0 h2.5 M353.5,465.0 h-2.5' stroke='#444' stroke-width='0.8'/>
<text x='201.5' y='467.4' font-size='7.2' fill='#222' text-anchor='end' stroke='#222' stroke-width='0.22' >0.7</text>
<text x='203.5' y='473.8' font-size='7.8' fill='#222' text-anchor='middle' stroke='#222' stroke-width='0.22' >8</text>
<path d='M233.5,465.0 v-2.5' stroke='#444' stroke-width='0.8'/>
<text x='233.5' y='473.8' font-size='7.8' fill='#222' text-anchor='middle' stroke='#222' stroke-width='0.22' >9</text>
<path d='M263.5,465.0 v-2.5' stroke='#444' stroke-width='0.8'/>
<text x='263.5' y='473.8' font-size='7.8' fill='#222' text-anchor='middle' stroke='#222' stroke-width='0.22' >10</text>
<path d='M293.5,465.0 v-2.5 M293.5,362.0 v2.5' stroke='#444' stroke-width='0.8'/>
<text x='293.5' y='473.8' font-size='7.8' fill='#222' text-anchor='middle' stroke='#222' stroke-width='0.22' >11</text>
<path d='M323.5,465.0 v-2.5 M323.5,362.0 v2.5' stroke='#444' stroke-width='0.8'/>
<text x='323.5' y='473.8' font-size='7.8' fill='#222' text-anchor='middle' stroke='#222' stroke-width='0.22' >12</text>
<text x='353.5' y='473.8' font-size='7.8' fill='#222' text-anchor='middle' stroke='#222' stroke-width='0.22' >13</text>
<text x='278.5' y='485' font-size='8.3' fill='#222' text-anchor='middle' stroke='#222' stroke-width='0.22' >Wavelength (µm)</text>
<text x='185.8' y='413.5' font-size='8.3' fill='#222' text-anchor='middle' stroke='#222' stroke-width='0.22' transform='rotate(-90 185.8 413.5)'>Emissivity</text>
<path d='M275.5,401.9 h6.5' stroke='#f6a898' stroke-width='1.1'/>
<rect x='277.4' y='400.5' width='2.8' height='2.8' fill='#fbd0c8' stroke='#f04040' stroke-width='0.7'/>
<text x='284' y='404.4' font-size='7.0' fill='#222' text-anchor='start' stroke='#222' stroke-width='0.22' >Slipface (pre-dawn)</text>
<path d='M275.5,410.9 h6.5' stroke='#909090' stroke-width='1.1'/>
<rect x='277.4' y='409.5' width='2.8' height='2.8' fill='#888' stroke='#444' stroke-width='0.7'/>
<text x='284' y='413.4' font-size='7.0' fill='#222' text-anchor='start' stroke='#222' stroke-width='0.22' >Windward (pre-dawn)</text>
<path d='M275.5,419.5 h6.5' stroke='#f8c49c' stroke-width='1.1'/>
<rect x='277.4' y='418.1' width='2.8' height='2.8' fill='#fad8b8' stroke='#f5a060' stroke-width='0.7'/>
<text x='284' y='422.0' font-size='7.0' fill='#222' text-anchor='start' stroke='#222' stroke-width='0.22' >Interdune (pre-dawn)</text>
<path d='M275.5,431.3 h6.5' stroke='#f42a20' stroke-width='1.1'/>
<circle cx='278.8' cy='431.3' r='1.5' fill='#f42a20'/>
<text x='284' y='433.8' font-size='7.0' fill='#222' text-anchor='start' stroke='#222' stroke-width='0.22' >Slipface (noon)</text>
<path d='M275.5,439.6 h6.5' stroke='#111' stroke-width='1.1'/>
<circle cx='278.8' cy='439.6' r='1.5' fill='#111'/>
<text x='284' y='442.1' font-size='7.0' fill='#222' text-anchor='start' stroke='#222' stroke-width='0.22' >Windward (noon)</text>
<path d='M275.5,447.2 h6.5' stroke='#f48a30' stroke-width='1.1'/>
<circle cx='278.8' cy='447.2' r='1.5' fill='#f48a30'/>
<text x='284' y='449.7' font-size='7.0' fill='#222' text-anchor='start' stroke='#222' stroke-width='0.22' >Interdune (noon)</text>
<path d='M275.5,455.5 h6.5' stroke='#333' stroke-width='0.9' stroke-dasharray='1.5 1.1'/>
<text x='284' y='458.0' font-size='7.0' fill='#222' text-anchor='start' stroke='#222' stroke-width='0.22' >Nicolet lab spectra</text>
<path d='M393.5,429.8 L403.6,428.8 L417.1,436.0 L464.3,367.3 L483.2,365.6' fill='none' stroke='#9aa8f0' stroke-width='0.6'/>
<path d='M393.5,437.3 L403.6,436.3 L417.1,443.5 L464.3,374.8 L483.2,373.1' fill='none' stroke='#9aa8f0' stroke-width='0.6'/>
<path d='M393.5,431.8 L403.6,430.8 L417.1,438.0 L464.3,369.4 L483.2,367.6' fill='none' stroke='#9aa8f0' stroke-width='0.6'/>
<path d='M393.5,435.3 L403.6,434.2 L417.1,441.5 L464.3,372.8 L483.2,371.1' fill='none' stroke='#9aa8f0' stroke-width='0.6'/>
<path d='M393.5,437.3 L403.6,436.0 L417.1,441.8 L464.3,372.4 L483.2,369.7' fill='none' stroke='#f5a0a0' stroke-width='0.6'/>
<path d='M393.5,444.9 L403.6,443.5 L417.1,449.4 L464.3,380.0 L483.2,377.2' fill='none' stroke='#f5a0a0' stroke-width='0.6'/>
<path d='M393.5,439.4 L403.6,438.0 L417.1,443.9 L464.3,374.5 L483.2,371.8' fill='none' stroke='#f5a0a0' stroke-width='0.6'/>
<path d='M393.5,442.8 L403.6,441.5 L417.1,447.3 L464.3,377.9 L483.2,375.2' fill='none' stroke='#f5a0a0' stroke-width='0.6'/>
<path d='M393.5,441.1 L403.6,439.7 L417.1,445.6 L464.3,376.2 L483.2,373.5' fill='none' stroke='#f02020' stroke-width='1.6'/>
<rect x='391.7' y='439.3' width='3.6' height='3.6' fill='#f02020'/>
<rect x='401.8' y='437.9' width='3.6' height='3.6' fill='#f02020'/>
<rect x='415.3' y='443.8' width='3.6' height='3.6' fill='#f02020'/>
<rect x='462.5' y='374.4' width='3.6' height='3.6' fill='#f02020'/>
<rect x='481.4' y='371.7' width='3.6' height='3.6' fill='#f02020'/>
<path d='M393.5,433.6 L403.6,432.5 L417.1,439.7 L464.3,371.1 L483.2,369.4' fill='none' stroke='#1f3fe0' stroke-width='1.6'/>
<rect x='391.7' y='431.8' width='3.6' height='3.6' fill='#1f3fe0'/>
<rect x='401.8' y='430.7' width='3.6' height='3.6' fill='#1f3fe0'/>
<rect x='415.3' y='437.9' width='3.6' height='3.6' fill='#1f3fe0'/>
<rect x='462.5' y='369.3' width='3.6' height='3.6' fill='#1f3fe0'/>
<rect x='481.4' y='367.6' width='3.6' height='3.6' fill='#1f3fe0'/>
<path d='M388.8,361.8 L384.8,361.8 L384.8,464.8 L534.3,464.8 L534.3,361.8 L485.8,361.8' fill='none' stroke='#444' stroke-width='0.9'/>
<text x='390.3' y='364.6' font-size='8.3' fill='#222' text-anchor='start' stroke='#222' stroke-width='0.22' font-style='italic'>270 m × 270 m test area</text>
<path d='M384.8,361.8 h2.5 M534.3,361.8 h-2.5' stroke='#444' stroke-width='0.8'/>
<text x='382.8' y='364.19999999999993' font-size='7.2' fill='#222' text-anchor='end' stroke='#222' stroke-width='0.22' >1.0</text>
<path d='M384.8,396.1 h2.5 M534.3,396.1 h-2.5' stroke='#444' stroke-width='0.8'/>
<text x='382.8' y='398.5333333333333' font-size='7.2' fill='#222' text-anchor='end' stroke='#222' stroke-width='0.22' >0.9</text>
<path d='M384.8,430.5 h2.5 M534.3,430.5 h-2.5' stroke='#444' stroke-width='0.8'/>
<text x='382.8' y='432.8666666666666' font-size='7.2' fill='#222' text-anchor='end' stroke='#222' stroke-width='0.22' >0.8</text>
<path d='M384.8,464.8 h2.5 M534.3,464.8 h-2.5' stroke='#444' stroke-width='0.8'/>
<text x='382.8' y='467.2' font-size='7.2' fill='#222' text-anchor='end' stroke='#222' stroke-width='0.22' >0.7</text>
<text x='384.8' y='473.8' font-size='7.8' fill='#222' text-anchor='middle' stroke='#222' stroke-width='0.22' >8</text>
<path d='M414.7,464.8 v-2.5' stroke='#444' stroke-width='0.8'/>
<text x='414.7' y='473.8' font-size='7.8' fill='#222' text-anchor='middle' stroke='#222' stroke-width='0.22' >9</text>
<path d='M444.6,464.8 v-2.5' stroke='#444' stroke-width='0.8'/>
<text x='444.6' y='473.8' font-size='7.8' fill='#222' text-anchor='middle' stroke='#222' stroke-width='0.22' >10</text>
<path d='M474.5,464.8 v-2.5' stroke='#444' stroke-width='0.8'/>
<text x='474.5' y='473.8' font-size='7.8' fill='#222' text-anchor='middle' stroke='#222' stroke-width='0.22' >11</text>
<path d='M504.4,464.8 v-2.5 M504.4,361.8 v2.5' stroke='#444' stroke-width='0.8'/>
<text x='504.4' y='473.8' font-size='7.8' fill='#222' text-anchor='middle' stroke='#222' stroke-width='0.22' >12</text>
<text x='534.3' y='473.8' font-size='7.8' fill='#222' text-anchor='middle' stroke='#222' stroke-width='0.22' >13</text>
<text x='459.5' y='485' font-size='8.3' fill='#222' text-anchor='middle' stroke='#222' stroke-width='0.22' >Wavelength (µm)</text>
<text x='365.5' y='413.5' font-size='8.3' fill='#222' text-anchor='middle' stroke='#222' stroke-width='0.22' transform='rotate(-90 365.5 413.5)'>Emissivity</text>
<text x='477.6' y='421.4' font-size='8.3' fill='#2a46d8' text-anchor='start' stroke='#2a46d8' stroke-width='0.22' >Pre-dawn</text>
<text x='477.6' y='431.7' font-size='8.3' fill='#ee2020' text-anchor='start' stroke='#ee2020' stroke-width='0.22' >Noon</text>
</svg></body></html>
